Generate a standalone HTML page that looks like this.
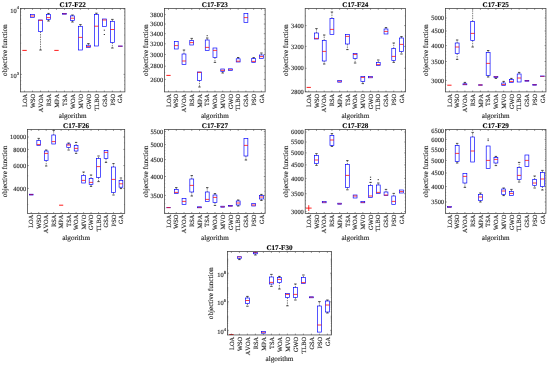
<!DOCTYPE html>
<html lang="en">
<head>
<meta charset="utf-8">
<title>C17 box plots</title>
<style>
html,body{margin:0;padding:0;background:#fff;}
body{width:550px;height:365px;overflow:hidden;font-family:"Liberation Serif",serif;}
svg{display:block;}
svg text{stroke:#303030;stroke-width:0.14px;}
</style>
</head>
<body>
<svg width="550" height="365" viewBox="0 0 550 365" font-family="'Liberation Serif', 'Times New Roman', serif" text-rendering="geometricPrecision" style="font-kerning:none" stroke-linecap="butt">
<g>
<line x1="22.35" y1="50.4" x2="26.75" y2="50.4" stroke="#ff0000" stroke-width="0.9"/>
<rect x="30.54" y="14.6" width="3.99" height="2.8" fill="none" stroke="#0000ff" stroke-width="0.67"/>
<line x1="30.54" y1="16" x2="34.53" y2="16" stroke="#ff0000" stroke-width="0.75"/>
<line x1="40.52" y1="31.6" x2="40.52" y2="50" stroke="#000" stroke-width="0.5" stroke-dasharray="1.5 0.9"/>
<line x1="39.28" y1="50" x2="41.75" y2="50" stroke="#000" stroke-width="0.7"/>
<rect x="38.52" y="20" width="3.99" height="11.6" fill="none" stroke="#0000ff" stroke-width="0.67"/>
<line x1="38.52" y1="20.3" x2="42.51" y2="20.3" stroke="#ff0000" stroke-width="0.75"/>
<line x1="48.5" y1="14.4" x2="48.5" y2="13.4" stroke="#000" stroke-width="0.5" stroke-dasharray="1.5 0.9"/>
<line x1="47.26" y1="13.4" x2="49.74" y2="13.4" stroke="#000" stroke-width="0.7"/>
<line x1="48.5" y1="19.6" x2="48.5" y2="21" stroke="#000" stroke-width="0.5" stroke-dasharray="1.5 0.9"/>
<line x1="47.26" y1="21" x2="49.74" y2="21" stroke="#000" stroke-width="0.7"/>
<rect x="46.5" y="14.4" width="3.99" height="5.2" fill="none" stroke="#0000ff" stroke-width="0.67"/>
<line x1="46.5" y1="17.6" x2="50.5" y2="17.6" stroke="#ff0000" stroke-width="0.75"/>
<line x1="54.29" y1="50.4" x2="58.68" y2="50.4" stroke="#ff0000" stroke-width="0.9"/>
<rect x="62.47" y="13.4" width="3.99" height="0.8" fill="none" stroke="#0000ff" stroke-width="0.67"/>
<line x1="62.47" y1="13.8" x2="66.46" y2="13.8" stroke="#ff0000" stroke-width="0.55"/>
<line x1="72.45" y1="15.9" x2="72.45" y2="15" stroke="#000" stroke-width="0.5" stroke-dasharray="1.5 0.9"/>
<line x1="71.21" y1="15" x2="73.69" y2="15" stroke="#000" stroke-width="0.7"/>
<line x1="72.45" y1="20.6" x2="72.45" y2="22" stroke="#000" stroke-width="0.5" stroke-dasharray="1.5 0.9"/>
<line x1="71.21" y1="22" x2="73.69" y2="22" stroke="#000" stroke-width="0.7"/>
<rect x="70.45" y="15.9" width="3.99" height="4.7" fill="none" stroke="#0000ff" stroke-width="0.67"/>
<line x1="70.45" y1="18.2" x2="74.45" y2="18.2" stroke="#ff0000" stroke-width="0.75"/>
<line x1="80.43" y1="26.3" x2="80.43" y2="24.6" stroke="#000" stroke-width="0.5" stroke-dasharray="1.5 0.9"/>
<line x1="79.2" y1="24.6" x2="81.67" y2="24.6" stroke="#000" stroke-width="0.7"/>
<rect x="78.44" y="26.3" width="3.99" height="23.7" fill="none" stroke="#0000ff" stroke-width="0.67"/>
<line x1="78.44" y1="37.4" x2="82.43" y2="37.4" stroke="#ff0000" stroke-width="0.75"/>
<line x1="88.42" y1="45.2" x2="88.42" y2="43.6" stroke="#000" stroke-width="0.5" stroke-dasharray="1.5 0.9"/>
<line x1="87.18" y1="43.6" x2="89.65" y2="43.6" stroke="#000" stroke-width="0.7"/>
<rect x="86.42" y="45.2" width="3.99" height="2.2" fill="none" stroke="#0000ff" stroke-width="0.67"/>
<line x1="86.42" y1="46.6" x2="90.41" y2="46.6" stroke="#ff0000" stroke-width="0.75"/>
<line x1="96.4" y1="14.4" x2="96.4" y2="13.2" stroke="#000" stroke-width="0.5" stroke-dasharray="1.5 0.9"/>
<line x1="95.16" y1="13.2" x2="97.64" y2="13.2" stroke="#000" stroke-width="0.7"/>
<rect x="94.4" y="14.4" width="3.99" height="31.6" fill="none" stroke="#0000ff" stroke-width="0.67"/>
<line x1="94.4" y1="26.2" x2="98.4" y2="26.2" stroke="#ff0000" stroke-width="0.75"/>
<rect x="102.39" y="19" width="3.99" height="7.4" fill="none" stroke="#0000ff" stroke-width="0.67"/>
<line x1="102.39" y1="20" x2="106.38" y2="20" stroke="#ff0000" stroke-width="0.75"/>
<line x1="103.78" y1="30.2" x2="104.98" y2="30.2" stroke="#000" stroke-width="0.8"/>
<line x1="103.78" y1="34.5" x2="104.98" y2="34.5" stroke="#000" stroke-width="0.8"/>
<line x1="112.37" y1="21.3" x2="112.37" y2="19.4" stroke="#000" stroke-width="0.5" stroke-dasharray="1.5 0.9"/>
<line x1="111.13" y1="19.4" x2="113.6" y2="19.4" stroke="#000" stroke-width="0.7"/>
<line x1="112.37" y1="42.5" x2="112.37" y2="48" stroke="#000" stroke-width="0.5" stroke-dasharray="1.5 0.9"/>
<line x1="111.13" y1="48" x2="113.6" y2="48" stroke="#000" stroke-width="0.7"/>
<rect x="110.37" y="21.3" width="3.99" height="21.2" fill="none" stroke="#0000ff" stroke-width="0.67"/>
<line x1="110.37" y1="29.5" x2="114.36" y2="29.5" stroke="#ff0000" stroke-width="0.75"/>
<rect x="118.35" y="46" width="3.99" height="0.4" fill="none" stroke="#0000ff" stroke-width="0.67"/>
<line x1="118.35" y1="46.2" x2="122.35" y2="46.2" stroke="#ff0000" stroke-width="0.55"/>
<rect x="20.5" y="8.5" width="104.4" height="83.4" fill="none" stroke="#404040" stroke-width="0.76"/>
<line x1="24.55" y1="91.9" x2="24.55" y2="90.55" stroke="#404040" stroke-width="0.55"/>
<line x1="24.55" y1="8.5" x2="24.55" y2="9.85" stroke="#404040" stroke-width="0.55"/>
<text x="26.7" y="93.85" font-size="6.4" text-anchor="end" fill="#262626" transform="rotate(-90 26.7 93.85)">LOA</text>
<line x1="32.53" y1="91.9" x2="32.53" y2="90.55" stroke="#404040" stroke-width="0.55"/>
<line x1="32.53" y1="8.5" x2="32.53" y2="9.85" stroke="#404040" stroke-width="0.55"/>
<text x="34.68" y="93.85" font-size="6.4" text-anchor="end" fill="#262626" transform="rotate(-90 34.68 93.85)">WSO</text>
<line x1="40.52" y1="91.9" x2="40.52" y2="90.55" stroke="#404040" stroke-width="0.55"/>
<line x1="40.52" y1="8.5" x2="40.52" y2="9.85" stroke="#404040" stroke-width="0.55"/>
<text x="42.67" y="93.85" font-size="6.4" text-anchor="end" fill="#262626" transform="rotate(-90 42.67 93.85)">AVOA</text>
<line x1="48.5" y1="91.9" x2="48.5" y2="90.55" stroke="#404040" stroke-width="0.55"/>
<line x1="48.5" y1="8.5" x2="48.5" y2="9.85" stroke="#404040" stroke-width="0.55"/>
<text x="50.65" y="93.85" font-size="6.4" text-anchor="end" fill="#262626" transform="rotate(-90 50.65 93.85)">RSA</text>
<line x1="56.48" y1="91.9" x2="56.48" y2="90.55" stroke="#404040" stroke-width="0.55"/>
<line x1="56.48" y1="8.5" x2="56.48" y2="9.85" stroke="#404040" stroke-width="0.55"/>
<text x="58.63" y="93.85" font-size="6.4" text-anchor="end" fill="#262626" transform="rotate(-90 58.63 93.85)">MPA</text>
<line x1="64.47" y1="91.9" x2="64.47" y2="90.55" stroke="#404040" stroke-width="0.55"/>
<line x1="64.47" y1="8.5" x2="64.47" y2="9.85" stroke="#404040" stroke-width="0.55"/>
<text x="66.62" y="93.85" font-size="6.4" text-anchor="end" fill="#262626" transform="rotate(-90 66.62 93.85)">TSA</text>
<line x1="72.45" y1="91.9" x2="72.45" y2="90.55" stroke="#404040" stroke-width="0.55"/>
<line x1="72.45" y1="8.5" x2="72.45" y2="9.85" stroke="#404040" stroke-width="0.55"/>
<text x="74.6" y="93.85" font-size="6.4" text-anchor="end" fill="#262626" transform="rotate(-90 74.6 93.85)">WOA</text>
<line x1="80.43" y1="91.9" x2="80.43" y2="90.55" stroke="#404040" stroke-width="0.55"/>
<line x1="80.43" y1="8.5" x2="80.43" y2="9.85" stroke="#404040" stroke-width="0.55"/>
<text x="82.58" y="93.85" font-size="6.4" text-anchor="end" fill="#262626" transform="rotate(-90 82.58 93.85)">MVO</text>
<line x1="88.42" y1="91.9" x2="88.42" y2="90.55" stroke="#404040" stroke-width="0.55"/>
<line x1="88.42" y1="8.5" x2="88.42" y2="9.85" stroke="#404040" stroke-width="0.55"/>
<text x="90.57" y="93.85" font-size="6.4" text-anchor="end" fill="#262626" transform="rotate(-90 90.57 93.85)">GWO</text>
<line x1="96.4" y1="91.9" x2="96.4" y2="90.55" stroke="#404040" stroke-width="0.55"/>
<line x1="96.4" y1="8.5" x2="96.4" y2="9.85" stroke="#404040" stroke-width="0.55"/>
<text x="98.55" y="93.85" font-size="6.4" text-anchor="end" fill="#262626" transform="rotate(-90 98.55 93.85)">TLBO</text>
<line x1="104.38" y1="91.9" x2="104.38" y2="90.55" stroke="#404040" stroke-width="0.55"/>
<line x1="104.38" y1="8.5" x2="104.38" y2="9.85" stroke="#404040" stroke-width="0.55"/>
<text x="106.53" y="93.85" font-size="6.4" text-anchor="end" fill="#262626" transform="rotate(-90 106.53 93.85)">GSA</text>
<line x1="112.37" y1="91.9" x2="112.37" y2="90.55" stroke="#404040" stroke-width="0.55"/>
<line x1="112.37" y1="8.5" x2="112.37" y2="9.85" stroke="#404040" stroke-width="0.55"/>
<text x="114.52" y="93.85" font-size="6.4" text-anchor="end" fill="#262626" transform="rotate(-90 114.52 93.85)">PSO</text>
<line x1="120.35" y1="91.9" x2="120.35" y2="90.55" stroke="#404040" stroke-width="0.55"/>
<line x1="120.35" y1="8.5" x2="120.35" y2="9.85" stroke="#404040" stroke-width="0.55"/>
<text x="122.5" y="93.85" font-size="6.4" text-anchor="end" fill="#262626" transform="rotate(-90 122.5 93.85)">GA</text>
<line x1="20.5" y1="9" x2="21.85" y2="9" stroke="#404040" stroke-width="0.55"/>
<line x1="124.9" y1="9" x2="123.55" y2="9" stroke="#404040" stroke-width="0.55"/>
<text x="19" y="12.7" font-size="6.4" text-anchor="end" fill="#262626">10<tspan dy="-3.3" font-size="4.61">4</tspan></text>
<line x1="20.5" y1="74.4" x2="21.85" y2="74.4" stroke="#404040" stroke-width="0.55"/>
<line x1="124.9" y1="74.4" x2="123.55" y2="74.4" stroke="#404040" stroke-width="0.55"/>
<text x="19" y="78.1" font-size="6.4" text-anchor="end" fill="#262626">10<tspan dy="-3.3" font-size="4.61">3</tspan></text>
<line x1="20.5" y1="88.91" x2="21.24" y2="88.91" stroke="#404040" stroke-width="0.4"/>
<line x1="124.9" y1="88.91" x2="124.16" y2="88.91" stroke="#404040" stroke-width="0.4"/>
<line x1="20.5" y1="84.53" x2="21.24" y2="84.53" stroke="#404040" stroke-width="0.4"/>
<line x1="124.9" y1="84.53" x2="124.16" y2="84.53" stroke="#404040" stroke-width="0.4"/>
<line x1="20.5" y1="80.74" x2="21.24" y2="80.74" stroke="#404040" stroke-width="0.4"/>
<line x1="124.9" y1="80.74" x2="124.16" y2="80.74" stroke="#404040" stroke-width="0.4"/>
<line x1="20.5" y1="77.39" x2="21.24" y2="77.39" stroke="#404040" stroke-width="0.4"/>
<line x1="124.9" y1="77.39" x2="124.16" y2="77.39" stroke="#404040" stroke-width="0.4"/>
<line x1="20.5" y1="54.71" x2="21.24" y2="54.71" stroke="#404040" stroke-width="0.4"/>
<line x1="124.9" y1="54.71" x2="124.16" y2="54.71" stroke="#404040" stroke-width="0.4"/>
<line x1="20.5" y1="43.2" x2="21.24" y2="43.2" stroke="#404040" stroke-width="0.4"/>
<line x1="124.9" y1="43.2" x2="124.16" y2="43.2" stroke="#404040" stroke-width="0.4"/>
<line x1="20.5" y1="35.03" x2="21.24" y2="35.03" stroke="#404040" stroke-width="0.4"/>
<line x1="124.9" y1="35.03" x2="124.16" y2="35.03" stroke="#404040" stroke-width="0.4"/>
<line x1="20.5" y1="28.69" x2="21.24" y2="28.69" stroke="#404040" stroke-width="0.4"/>
<line x1="124.9" y1="28.69" x2="124.16" y2="28.69" stroke="#404040" stroke-width="0.4"/>
<line x1="20.5" y1="23.51" x2="21.24" y2="23.51" stroke="#404040" stroke-width="0.4"/>
<line x1="124.9" y1="23.51" x2="124.16" y2="23.51" stroke="#404040" stroke-width="0.4"/>
<line x1="20.5" y1="19.13" x2="21.24" y2="19.13" stroke="#404040" stroke-width="0.4"/>
<line x1="124.9" y1="19.13" x2="124.16" y2="19.13" stroke="#404040" stroke-width="0.4"/>
<line x1="20.5" y1="15.34" x2="21.24" y2="15.34" stroke="#404040" stroke-width="0.4"/>
<line x1="124.9" y1="15.34" x2="124.16" y2="15.34" stroke="#404040" stroke-width="0.4"/>
<line x1="20.5" y1="11.99" x2="21.24" y2="11.99" stroke="#404040" stroke-width="0.4"/>
<line x1="124.9" y1="11.99" x2="124.16" y2="11.99" stroke="#404040" stroke-width="0.4"/>
<text x="72.7" y="7" font-size="7.15" text-anchor="middle" fill="#000" font-weight="bold">C17-F22</text>
<text x="72.7" y="118.45" font-size="7.15" text-anchor="middle" fill="#262626">algorithm</text>
<text x="6.6" y="50.2" font-size="7.15" text-anchor="middle" fill="#262626" transform="rotate(-90 6.6 50.2)">objective function</text>
</g>
<g>
<line x1="166.36" y1="75.4" x2="170.64" y2="75.4" stroke="#ff0000" stroke-width="0.9"/>
<rect x="174.31" y="41.4" width="3.87" height="7.6" fill="none" stroke="#0000ff" stroke-width="0.67"/>
<line x1="174.31" y1="45.6" x2="178.18" y2="45.6" stroke="#ff0000" stroke-width="0.75"/>
<line x1="183.98" y1="54" x2="183.98" y2="50" stroke="#000" stroke-width="0.5" stroke-dasharray="1.5 0.9"/>
<line x1="182.78" y1="50" x2="185.18" y2="50" stroke="#000" stroke-width="0.7"/>
<rect x="182.05" y="54" width="3.87" height="10.4" fill="none" stroke="#0000ff" stroke-width="0.67"/>
<line x1="182.05" y1="61" x2="185.92" y2="61" stroke="#ff0000" stroke-width="0.75"/>
<line x1="191.72" y1="40.4" x2="191.72" y2="38.4" stroke="#000" stroke-width="0.5" stroke-dasharray="1.5 0.9"/>
<line x1="190.53" y1="38.4" x2="192.92" y2="38.4" stroke="#000" stroke-width="0.7"/>
<rect x="189.79" y="40.4" width="3.87" height="4.6" fill="none" stroke="#0000ff" stroke-width="0.67"/>
<line x1="189.79" y1="42.6" x2="193.66" y2="42.6" stroke="#ff0000" stroke-width="0.75"/>
<line x1="199.47" y1="80.4" x2="199.47" y2="87" stroke="#000" stroke-width="0.5" stroke-dasharray="1.5 0.9"/>
<line x1="198.27" y1="87" x2="200.67" y2="87" stroke="#000" stroke-width="0.7"/>
<rect x="197.53" y="72" width="3.87" height="8.4" fill="none" stroke="#0000ff" stroke-width="0.67"/>
<line x1="197.53" y1="72.4" x2="201.4" y2="72.4" stroke="#ff0000" stroke-width="0.75"/>
<line x1="207.21" y1="40" x2="207.21" y2="38" stroke="#000" stroke-width="0.5" stroke-dasharray="1.5 0.9"/>
<line x1="206.01" y1="38" x2="208.41" y2="38" stroke="#000" stroke-width="0.7"/>
<rect x="205.27" y="40" width="3.87" height="10.4" fill="none" stroke="#0000ff" stroke-width="0.67"/>
<line x1="205.27" y1="47.4" x2="209.14" y2="47.4" stroke="#ff0000" stroke-width="0.75"/>
<line x1="206.61" y1="35.7" x2="207.81" y2="35.7" stroke="#000" stroke-width="0.8"/>
<line x1="214.95" y1="57.6" x2="214.95" y2="62.4" stroke="#000" stroke-width="0.5" stroke-dasharray="1.5 0.9"/>
<line x1="213.75" y1="62.4" x2="216.15" y2="62.4" stroke="#000" stroke-width="0.7"/>
<rect x="213.01" y="48" width="3.87" height="9.6" fill="none" stroke="#0000ff" stroke-width="0.67"/>
<line x1="213.01" y1="50.4" x2="216.89" y2="50.4" stroke="#ff0000" stroke-width="0.75"/>
<line x1="222.69" y1="71.6" x2="222.69" y2="73" stroke="#000" stroke-width="0.5" stroke-dasharray="1.5 0.9"/>
<line x1="221.49" y1="73" x2="223.89" y2="73" stroke="#000" stroke-width="0.7"/>
<rect x="220.76" y="69" width="3.87" height="2.6" fill="none" stroke="#0000ff" stroke-width="0.67"/>
<line x1="220.76" y1="70.3" x2="224.63" y2="70.3" stroke="#ff0000" stroke-width="0.75"/>
<rect x="228.5" y="68.8" width="3.87" height="1.6" fill="none" stroke="#0000ff" stroke-width="0.67"/>
<line x1="228.5" y1="69.6" x2="232.37" y2="69.6" stroke="#ff0000" stroke-width="0.55"/>
<line x1="238.17" y1="58.8" x2="238.17" y2="57.5" stroke="#000" stroke-width="0.5" stroke-dasharray="1.5 0.9"/>
<line x1="236.98" y1="57.5" x2="239.37" y2="57.5" stroke="#000" stroke-width="0.7"/>
<rect x="236.24" y="58.8" width="3.87" height="3.2" fill="none" stroke="#0000ff" stroke-width="0.67"/>
<line x1="236.24" y1="61.2" x2="240.11" y2="61.2" stroke="#ff0000" stroke-width="0.75"/>
<rect x="243.98" y="13.6" width="3.87" height="9" fill="none" stroke="#0000ff" stroke-width="0.67"/>
<line x1="243.98" y1="17.6" x2="247.85" y2="17.6" stroke="#ff0000" stroke-width="0.75"/>
<line x1="253.66" y1="58.6" x2="253.66" y2="57.6" stroke="#000" stroke-width="0.5" stroke-dasharray="1.5 0.9"/>
<line x1="252.46" y1="57.6" x2="254.86" y2="57.6" stroke="#000" stroke-width="0.7"/>
<rect x="251.72" y="58.6" width="3.87" height="4" fill="none" stroke="#0000ff" stroke-width="0.67"/>
<line x1="251.72" y1="61.4" x2="255.59" y2="61.4" stroke="#ff0000" stroke-width="0.75"/>
<line x1="261.4" y1="55" x2="261.4" y2="53" stroke="#000" stroke-width="0.5" stroke-dasharray="1.5 0.9"/>
<line x1="260.2" y1="53" x2="262.6" y2="53" stroke="#000" stroke-width="0.7"/>
<rect x="259.46" y="55" width="3.87" height="3.4" fill="none" stroke="#0000ff" stroke-width="0.67"/>
<line x1="259.46" y1="56.6" x2="263.34" y2="56.6" stroke="#ff0000" stroke-width="0.75"/>
<rect x="164.5" y="8.5" width="100.65" height="83.4" fill="none" stroke="#404040" stroke-width="0.76"/>
<line x1="168.5" y1="91.9" x2="168.5" y2="90.55" stroke="#404040" stroke-width="0.55"/>
<line x1="168.5" y1="8.5" x2="168.5" y2="9.85" stroke="#404040" stroke-width="0.55"/>
<text x="170.65" y="93.85" font-size="6.4" text-anchor="end" fill="#262626" transform="rotate(-90 170.65 93.85)">LOA</text>
<line x1="176.24" y1="91.9" x2="176.24" y2="90.55" stroke="#404040" stroke-width="0.55"/>
<line x1="176.24" y1="8.5" x2="176.24" y2="9.85" stroke="#404040" stroke-width="0.55"/>
<text x="178.39" y="93.85" font-size="6.4" text-anchor="end" fill="#262626" transform="rotate(-90 178.39 93.85)">WSO</text>
<line x1="183.98" y1="91.9" x2="183.98" y2="90.55" stroke="#404040" stroke-width="0.55"/>
<line x1="183.98" y1="8.5" x2="183.98" y2="9.85" stroke="#404040" stroke-width="0.55"/>
<text x="186.13" y="93.85" font-size="6.4" text-anchor="end" fill="#262626" transform="rotate(-90 186.13 93.85)">AVOA</text>
<line x1="191.72" y1="91.9" x2="191.72" y2="90.55" stroke="#404040" stroke-width="0.55"/>
<line x1="191.72" y1="8.5" x2="191.72" y2="9.85" stroke="#404040" stroke-width="0.55"/>
<text x="193.88" y="93.85" font-size="6.4" text-anchor="end" fill="#262626" transform="rotate(-90 193.88 93.85)">RSA</text>
<line x1="199.47" y1="91.9" x2="199.47" y2="90.55" stroke="#404040" stroke-width="0.55"/>
<line x1="199.47" y1="8.5" x2="199.47" y2="9.85" stroke="#404040" stroke-width="0.55"/>
<text x="201.62" y="93.85" font-size="6.4" text-anchor="end" fill="#262626" transform="rotate(-90 201.62 93.85)">MPA</text>
<line x1="207.21" y1="91.9" x2="207.21" y2="90.55" stroke="#404040" stroke-width="0.55"/>
<line x1="207.21" y1="8.5" x2="207.21" y2="9.85" stroke="#404040" stroke-width="0.55"/>
<text x="209.36" y="93.85" font-size="6.4" text-anchor="end" fill="#262626" transform="rotate(-90 209.36 93.85)">TSA</text>
<line x1="214.95" y1="91.9" x2="214.95" y2="90.55" stroke="#404040" stroke-width="0.55"/>
<line x1="214.95" y1="8.5" x2="214.95" y2="9.85" stroke="#404040" stroke-width="0.55"/>
<text x="217.1" y="93.85" font-size="6.4" text-anchor="end" fill="#262626" transform="rotate(-90 217.1 93.85)">WOA</text>
<line x1="222.69" y1="91.9" x2="222.69" y2="90.55" stroke="#404040" stroke-width="0.55"/>
<line x1="222.69" y1="8.5" x2="222.69" y2="9.85" stroke="#404040" stroke-width="0.55"/>
<text x="224.84" y="93.85" font-size="6.4" text-anchor="end" fill="#262626" transform="rotate(-90 224.84 93.85)">MVO</text>
<line x1="230.43" y1="91.9" x2="230.43" y2="90.55" stroke="#404040" stroke-width="0.55"/>
<line x1="230.43" y1="8.5" x2="230.43" y2="9.85" stroke="#404040" stroke-width="0.55"/>
<text x="232.58" y="93.85" font-size="6.4" text-anchor="end" fill="#262626" transform="rotate(-90 232.58 93.85)">GWO</text>
<line x1="238.17" y1="91.9" x2="238.17" y2="90.55" stroke="#404040" stroke-width="0.55"/>
<line x1="238.17" y1="8.5" x2="238.17" y2="9.85" stroke="#404040" stroke-width="0.55"/>
<text x="240.32" y="93.85" font-size="6.4" text-anchor="end" fill="#262626" transform="rotate(-90 240.32 93.85)">TLBO</text>
<line x1="245.92" y1="91.9" x2="245.92" y2="90.55" stroke="#404040" stroke-width="0.55"/>
<line x1="245.92" y1="8.5" x2="245.92" y2="9.85" stroke="#404040" stroke-width="0.55"/>
<text x="248.07" y="93.85" font-size="6.4" text-anchor="end" fill="#262626" transform="rotate(-90 248.07 93.85)">GSA</text>
<line x1="253.66" y1="91.9" x2="253.66" y2="90.55" stroke="#404040" stroke-width="0.55"/>
<line x1="253.66" y1="8.5" x2="253.66" y2="9.85" stroke="#404040" stroke-width="0.55"/>
<text x="255.81" y="93.85" font-size="6.4" text-anchor="end" fill="#262626" transform="rotate(-90 255.81 93.85)">PSO</text>
<line x1="261.4" y1="91.9" x2="261.4" y2="90.55" stroke="#404040" stroke-width="0.55"/>
<line x1="261.4" y1="8.5" x2="261.4" y2="9.85" stroke="#404040" stroke-width="0.55"/>
<text x="263.55" y="93.85" font-size="6.4" text-anchor="end" fill="#262626" transform="rotate(-90 263.55 93.85)">GA</text>
<line x1="164.5" y1="14.6" x2="165.85" y2="14.6" stroke="#404040" stroke-width="0.55"/>
<line x1="265.15" y1="14.6" x2="263.8" y2="14.6" stroke="#404040" stroke-width="0.55"/>
<text x="163.1" y="16.75" font-size="6.4" text-anchor="end" fill="#262626">3800</text>
<line x1="164.5" y1="24" x2="165.85" y2="24" stroke="#404040" stroke-width="0.55"/>
<line x1="265.15" y1="24" x2="263.8" y2="24" stroke="#404040" stroke-width="0.55"/>
<text x="163.1" y="26.15" font-size="6.4" text-anchor="end" fill="#262626">3600</text>
<line x1="164.5" y1="33.7" x2="165.85" y2="33.7" stroke="#404040" stroke-width="0.55"/>
<line x1="265.15" y1="33.7" x2="263.8" y2="33.7" stroke="#404040" stroke-width="0.55"/>
<text x="163.1" y="35.85" font-size="6.4" text-anchor="end" fill="#262626">3400</text>
<line x1="164.5" y1="43.8" x2="165.85" y2="43.8" stroke="#404040" stroke-width="0.55"/>
<line x1="265.15" y1="43.8" x2="263.8" y2="43.8" stroke="#404040" stroke-width="0.55"/>
<text x="163.1" y="45.95" font-size="6.4" text-anchor="end" fill="#262626">3200</text>
<line x1="164.5" y1="54.5" x2="165.85" y2="54.5" stroke="#404040" stroke-width="0.55"/>
<line x1="265.15" y1="54.5" x2="263.8" y2="54.5" stroke="#404040" stroke-width="0.55"/>
<text x="163.1" y="56.65" font-size="6.4" text-anchor="end" fill="#262626">3000</text>
<line x1="164.5" y1="66.2" x2="165.85" y2="66.2" stroke="#404040" stroke-width="0.55"/>
<line x1="265.15" y1="66.2" x2="263.8" y2="66.2" stroke="#404040" stroke-width="0.55"/>
<text x="163.1" y="68.35" font-size="6.4" text-anchor="end" fill="#262626">2800</text>
<line x1="164.5" y1="79.4" x2="165.85" y2="79.4" stroke="#404040" stroke-width="0.55"/>
<line x1="265.15" y1="79.4" x2="263.8" y2="79.4" stroke="#404040" stroke-width="0.55"/>
<text x="163.1" y="81.55" font-size="6.4" text-anchor="end" fill="#262626">2600</text>
<line x1="164.5" y1="85.71" x2="165.24" y2="85.71" stroke="#404040" stroke-width="0.4"/>
<line x1="265.15" y1="85.71" x2="264.41" y2="85.71" stroke="#404040" stroke-width="0.4"/>
<line x1="164.5" y1="72.65" x2="165.24" y2="72.65" stroke="#404040" stroke-width="0.4"/>
<line x1="265.15" y1="72.65" x2="264.41" y2="72.65" stroke="#404040" stroke-width="0.4"/>
<line x1="164.5" y1="60.53" x2="165.24" y2="60.53" stroke="#404040" stroke-width="0.4"/>
<line x1="265.15" y1="60.53" x2="264.41" y2="60.53" stroke="#404040" stroke-width="0.4"/>
<line x1="164.5" y1="49.21" x2="165.24" y2="49.21" stroke="#404040" stroke-width="0.4"/>
<line x1="265.15" y1="49.21" x2="264.41" y2="49.21" stroke="#404040" stroke-width="0.4"/>
<line x1="164.5" y1="38.61" x2="165.24" y2="38.61" stroke="#404040" stroke-width="0.4"/>
<line x1="265.15" y1="38.61" x2="264.41" y2="38.61" stroke="#404040" stroke-width="0.4"/>
<line x1="164.5" y1="28.62" x2="165.24" y2="28.62" stroke="#404040" stroke-width="0.4"/>
<line x1="265.15" y1="28.62" x2="264.41" y2="28.62" stroke="#404040" stroke-width="0.4"/>
<line x1="164.5" y1="19.2" x2="165.24" y2="19.2" stroke="#404040" stroke-width="0.4"/>
<line x1="265.15" y1="19.2" x2="264.41" y2="19.2" stroke="#404040" stroke-width="0.4"/>
<line x1="164.5" y1="10.26" x2="165.24" y2="10.26" stroke="#404040" stroke-width="0.4"/>
<line x1="265.15" y1="10.26" x2="264.41" y2="10.26" stroke="#404040" stroke-width="0.4"/>
<text x="214.82" y="7" font-size="7.15" text-anchor="middle" fill="#000" font-weight="bold">C17-F23</text>
<text x="214.82" y="118.45" font-size="7.15" text-anchor="middle" fill="#262626">algorithm</text>
<text x="147.6" y="50.2" font-size="7.15" text-anchor="middle" fill="#262626" transform="rotate(-90 147.6 50.2)">objective function</text>
</g>
<g>
<line x1="306.62" y1="87.4" x2="310.88" y2="87.4" stroke="#ff0000" stroke-width="0.9"/>
<line x1="316.48" y1="33" x2="316.48" y2="28.6" stroke="#000" stroke-width="0.5" stroke-dasharray="1.5 0.9"/>
<line x1="315.28" y1="28.6" x2="317.67" y2="28.6" stroke="#000" stroke-width="0.7"/>
<rect x="314.54" y="33" width="3.86" height="6" fill="none" stroke="#0000ff" stroke-width="0.67"/>
<line x1="314.54" y1="38.4" x2="318.41" y2="38.4" stroke="#ff0000" stroke-width="0.75"/>
<line x1="324.2" y1="40.4" x2="324.2" y2="35" stroke="#000" stroke-width="0.5" stroke-dasharray="1.5 0.9"/>
<line x1="323" y1="35" x2="325.4" y2="35" stroke="#000" stroke-width="0.7"/>
<line x1="324.2" y1="61" x2="324.2" y2="64" stroke="#000" stroke-width="0.5" stroke-dasharray="1.5 0.9"/>
<line x1="323" y1="64" x2="325.4" y2="64" stroke="#000" stroke-width="0.7"/>
<rect x="322.27" y="40.4" width="3.86" height="20.6" fill="none" stroke="#0000ff" stroke-width="0.67"/>
<line x1="322.27" y1="51.4" x2="326.13" y2="51.4" stroke="#ff0000" stroke-width="0.75"/>
<line x1="331.93" y1="18.4" x2="331.93" y2="12" stroke="#000" stroke-width="0.5" stroke-dasharray="1.5 0.9"/>
<line x1="330.73" y1="12" x2="333.12" y2="12" stroke="#000" stroke-width="0.7"/>
<rect x="329.99" y="18.4" width="3.86" height="16" fill="none" stroke="#0000ff" stroke-width="0.67"/>
<line x1="329.99" y1="29.4" x2="333.86" y2="29.4" stroke="#ff0000" stroke-width="0.75"/>
<rect x="337.72" y="80.6" width="3.86" height="1.6" fill="none" stroke="#0000ff" stroke-width="0.67"/>
<line x1="337.72" y1="81.4" x2="341.58" y2="81.4" stroke="#ff0000" stroke-width="0.55"/>
<line x1="347.38" y1="44" x2="347.38" y2="49.6" stroke="#000" stroke-width="0.5" stroke-dasharray="1.5 0.9"/>
<line x1="346.18" y1="49.6" x2="348.57" y2="49.6" stroke="#000" stroke-width="0.7"/>
<rect x="345.44" y="34.4" width="3.86" height="9.6" fill="none" stroke="#0000ff" stroke-width="0.67"/>
<line x1="345.44" y1="36.4" x2="349.31" y2="36.4" stroke="#ff0000" stroke-width="0.75"/>
<line x1="355.1" y1="58.4" x2="355.1" y2="63" stroke="#000" stroke-width="0.5" stroke-dasharray="1.5 0.9"/>
<line x1="353.9" y1="63" x2="356.3" y2="63" stroke="#000" stroke-width="0.7"/>
<rect x="353.17" y="53.6" width="3.86" height="4.8" fill="none" stroke="#0000ff" stroke-width="0.67"/>
<line x1="353.17" y1="54.4" x2="357.03" y2="54.4" stroke="#ff0000" stroke-width="0.75"/>
<line x1="362.82" y1="81.4" x2="362.82" y2="83.6" stroke="#000" stroke-width="0.5" stroke-dasharray="1.5 0.9"/>
<line x1="361.63" y1="83.6" x2="364.02" y2="83.6" stroke="#000" stroke-width="0.7"/>
<rect x="360.89" y="76.6" width="3.86" height="4.8" fill="none" stroke="#0000ff" stroke-width="0.67"/>
<line x1="360.89" y1="77.4" x2="364.76" y2="77.4" stroke="#ff0000" stroke-width="0.75"/>
<rect x="368.62" y="76.6" width="3.86" height="1.2" fill="none" stroke="#0000ff" stroke-width="0.67"/>
<line x1="368.62" y1="77.2" x2="372.48" y2="77.2" stroke="#ff0000" stroke-width="0.55"/>
<line x1="378.27" y1="62.4" x2="378.27" y2="60" stroke="#000" stroke-width="0.5" stroke-dasharray="1.5 0.9"/>
<line x1="377.08" y1="60" x2="379.47" y2="60" stroke="#000" stroke-width="0.7"/>
<rect x="376.34" y="62.4" width="3.86" height="3.1" fill="none" stroke="#0000ff" stroke-width="0.67"/>
<line x1="376.34" y1="64.6" x2="380.21" y2="64.6" stroke="#ff0000" stroke-width="0.75"/>
<line x1="386" y1="29" x2="386" y2="27.6" stroke="#000" stroke-width="0.5" stroke-dasharray="1.5 0.9"/>
<line x1="384.8" y1="27.6" x2="387.2" y2="27.6" stroke="#000" stroke-width="0.7"/>
<rect x="384.07" y="29" width="3.86" height="5" fill="none" stroke="#0000ff" stroke-width="0.67"/>
<line x1="384.07" y1="31.4" x2="387.93" y2="31.4" stroke="#ff0000" stroke-width="0.75"/>
<line x1="393.72" y1="48.6" x2="393.72" y2="43" stroke="#000" stroke-width="0.5" stroke-dasharray="1.5 0.9"/>
<line x1="392.53" y1="43" x2="394.92" y2="43" stroke="#000" stroke-width="0.7"/>
<line x1="393.72" y1="60.6" x2="393.72" y2="62.4" stroke="#000" stroke-width="0.5" stroke-dasharray="1.5 0.9"/>
<line x1="392.53" y1="62.4" x2="394.92" y2="62.4" stroke="#000" stroke-width="0.7"/>
<rect x="391.79" y="48.6" width="3.86" height="12" fill="none" stroke="#0000ff" stroke-width="0.67"/>
<line x1="391.79" y1="56.4" x2="395.66" y2="56.4" stroke="#ff0000" stroke-width="0.75"/>
<line x1="401.45" y1="38" x2="401.45" y2="36.6" stroke="#000" stroke-width="0.5" stroke-dasharray="1.5 0.9"/>
<line x1="400.25" y1="36.6" x2="402.65" y2="36.6" stroke="#000" stroke-width="0.7"/>
<line x1="401.45" y1="51.6" x2="401.45" y2="54" stroke="#000" stroke-width="0.5" stroke-dasharray="1.5 0.9"/>
<line x1="400.25" y1="54" x2="402.65" y2="54" stroke="#000" stroke-width="0.7"/>
<rect x="399.52" y="38" width="3.86" height="13.6" fill="none" stroke="#0000ff" stroke-width="0.67"/>
<line x1="399.52" y1="44.4" x2="403.38" y2="44.4" stroke="#ff0000" stroke-width="0.75"/>
<rect x="305.2" y="8.5" width="100.3" height="83.4" fill="none" stroke="#404040" stroke-width="0.76"/>
<line x1="308.75" y1="91.9" x2="308.75" y2="90.55" stroke="#404040" stroke-width="0.55"/>
<line x1="308.75" y1="8.5" x2="308.75" y2="9.85" stroke="#404040" stroke-width="0.55"/>
<text x="310.9" y="93.85" font-size="6.4" text-anchor="end" fill="#262626" transform="rotate(-90 310.9 93.85)">LOA</text>
<line x1="316.48" y1="91.9" x2="316.48" y2="90.55" stroke="#404040" stroke-width="0.55"/>
<line x1="316.48" y1="8.5" x2="316.48" y2="9.85" stroke="#404040" stroke-width="0.55"/>
<text x="318.62" y="93.85" font-size="6.4" text-anchor="end" fill="#262626" transform="rotate(-90 318.62 93.85)">WSO</text>
<line x1="324.2" y1="91.9" x2="324.2" y2="90.55" stroke="#404040" stroke-width="0.55"/>
<line x1="324.2" y1="8.5" x2="324.2" y2="9.85" stroke="#404040" stroke-width="0.55"/>
<text x="326.35" y="93.85" font-size="6.4" text-anchor="end" fill="#262626" transform="rotate(-90 326.35 93.85)">AVOA</text>
<line x1="331.93" y1="91.9" x2="331.93" y2="90.55" stroke="#404040" stroke-width="0.55"/>
<line x1="331.93" y1="8.5" x2="331.93" y2="9.85" stroke="#404040" stroke-width="0.55"/>
<text x="334.07" y="93.85" font-size="6.4" text-anchor="end" fill="#262626" transform="rotate(-90 334.07 93.85)">RSA</text>
<line x1="339.65" y1="91.9" x2="339.65" y2="90.55" stroke="#404040" stroke-width="0.55"/>
<line x1="339.65" y1="8.5" x2="339.65" y2="9.85" stroke="#404040" stroke-width="0.55"/>
<text x="341.8" y="93.85" font-size="6.4" text-anchor="end" fill="#262626" transform="rotate(-90 341.8 93.85)">MPA</text>
<line x1="347.38" y1="91.9" x2="347.38" y2="90.55" stroke="#404040" stroke-width="0.55"/>
<line x1="347.38" y1="8.5" x2="347.38" y2="9.85" stroke="#404040" stroke-width="0.55"/>
<text x="349.52" y="93.85" font-size="6.4" text-anchor="end" fill="#262626" transform="rotate(-90 349.52 93.85)">TSA</text>
<line x1="355.1" y1="91.9" x2="355.1" y2="90.55" stroke="#404040" stroke-width="0.55"/>
<line x1="355.1" y1="8.5" x2="355.1" y2="9.85" stroke="#404040" stroke-width="0.55"/>
<text x="357.25" y="93.85" font-size="6.4" text-anchor="end" fill="#262626" transform="rotate(-90 357.25 93.85)">WOA</text>
<line x1="362.82" y1="91.9" x2="362.82" y2="90.55" stroke="#404040" stroke-width="0.55"/>
<line x1="362.82" y1="8.5" x2="362.82" y2="9.85" stroke="#404040" stroke-width="0.55"/>
<text x="364.97" y="93.85" font-size="6.4" text-anchor="end" fill="#262626" transform="rotate(-90 364.97 93.85)">MVO</text>
<line x1="370.55" y1="91.9" x2="370.55" y2="90.55" stroke="#404040" stroke-width="0.55"/>
<line x1="370.55" y1="8.5" x2="370.55" y2="9.85" stroke="#404040" stroke-width="0.55"/>
<text x="372.7" y="93.85" font-size="6.4" text-anchor="end" fill="#262626" transform="rotate(-90 372.7 93.85)">GWO</text>
<line x1="378.27" y1="91.9" x2="378.27" y2="90.55" stroke="#404040" stroke-width="0.55"/>
<line x1="378.27" y1="8.5" x2="378.27" y2="9.85" stroke="#404040" stroke-width="0.55"/>
<text x="380.42" y="93.85" font-size="6.4" text-anchor="end" fill="#262626" transform="rotate(-90 380.42 93.85)">TLBO</text>
<line x1="386" y1="91.9" x2="386" y2="90.55" stroke="#404040" stroke-width="0.55"/>
<line x1="386" y1="8.5" x2="386" y2="9.85" stroke="#404040" stroke-width="0.55"/>
<text x="388.15" y="93.85" font-size="6.4" text-anchor="end" fill="#262626" transform="rotate(-90 388.15 93.85)">GSA</text>
<line x1="393.72" y1="91.9" x2="393.72" y2="90.55" stroke="#404040" stroke-width="0.55"/>
<line x1="393.72" y1="8.5" x2="393.72" y2="9.85" stroke="#404040" stroke-width="0.55"/>
<text x="395.87" y="93.85" font-size="6.4" text-anchor="end" fill="#262626" transform="rotate(-90 395.87 93.85)">PSO</text>
<line x1="401.45" y1="91.9" x2="401.45" y2="90.55" stroke="#404040" stroke-width="0.55"/>
<line x1="401.45" y1="8.5" x2="401.45" y2="9.85" stroke="#404040" stroke-width="0.55"/>
<text x="403.6" y="93.85" font-size="6.4" text-anchor="end" fill="#262626" transform="rotate(-90 403.6 93.85)">GA</text>
<line x1="305.2" y1="25.6" x2="306.55" y2="25.6" stroke="#404040" stroke-width="0.55"/>
<line x1="405.5" y1="25.6" x2="404.15" y2="25.6" stroke="#404040" stroke-width="0.55"/>
<text x="303.8" y="27.75" font-size="6.4" text-anchor="end" fill="#262626">3400</text>
<line x1="305.2" y1="46.4" x2="306.55" y2="46.4" stroke="#404040" stroke-width="0.55"/>
<line x1="405.5" y1="46.4" x2="404.15" y2="46.4" stroke="#404040" stroke-width="0.55"/>
<text x="303.8" y="48.55" font-size="6.4" text-anchor="end" fill="#262626">3200</text>
<line x1="305.2" y1="68.3" x2="306.55" y2="68.3" stroke="#404040" stroke-width="0.55"/>
<line x1="405.5" y1="68.3" x2="404.15" y2="68.3" stroke="#404040" stroke-width="0.55"/>
<text x="303.8" y="70.45" font-size="6.4" text-anchor="end" fill="#262626">3000</text>
<line x1="305.2" y1="91.4" x2="306.55" y2="91.4" stroke="#404040" stroke-width="0.55"/>
<line x1="405.5" y1="91.4" x2="404.15" y2="91.4" stroke="#404040" stroke-width="0.55"/>
<text x="303.8" y="93.55" font-size="6.4" text-anchor="end" fill="#262626">2800</text>
<line x1="305.2" y1="79.64" x2="305.94" y2="79.64" stroke="#404040" stroke-width="0.4"/>
<line x1="405.5" y1="79.64" x2="404.76" y2="79.64" stroke="#404040" stroke-width="0.4"/>
<line x1="305.2" y1="57.04" x2="305.94" y2="57.04" stroke="#404040" stroke-width="0.4"/>
<line x1="405.5" y1="57.04" x2="404.76" y2="57.04" stroke="#404040" stroke-width="0.4"/>
<line x1="305.2" y1="35.85" x2="305.94" y2="35.85" stroke="#404040" stroke-width="0.4"/>
<line x1="405.5" y1="35.85" x2="404.76" y2="35.85" stroke="#404040" stroke-width="0.4"/>
<line x1="305.2" y1="15.91" x2="305.94" y2="15.91" stroke="#404040" stroke-width="0.4"/>
<line x1="405.5" y1="15.91" x2="404.76" y2="15.91" stroke="#404040" stroke-width="0.4"/>
<text x="355.35" y="7" font-size="7.15" text-anchor="middle" fill="#000" font-weight="bold">C17-F24</text>
<text x="355.35" y="118.45" font-size="7.15" text-anchor="middle" fill="#262626">algorithm</text>
<text x="287.6" y="50.2" font-size="7.15" text-anchor="middle" fill="#262626" transform="rotate(-90 287.6 50.2)">objective function</text>
</g>
<g>
<line x1="447.26" y1="85.2" x2="451.54" y2="85.2" stroke="#ff0000" stroke-width="0.9"/>
<line x1="457.15" y1="43" x2="457.15" y2="40" stroke="#000" stroke-width="0.5" stroke-dasharray="1.5 0.9"/>
<line x1="455.95" y1="40" x2="458.35" y2="40" stroke="#000" stroke-width="0.7"/>
<line x1="457.15" y1="53.6" x2="457.15" y2="59.4" stroke="#000" stroke-width="0.5" stroke-dasharray="1.5 0.9"/>
<line x1="455.95" y1="59.4" x2="458.35" y2="59.4" stroke="#000" stroke-width="0.7"/>
<rect x="455.21" y="43" width="3.88" height="10.6" fill="none" stroke="#0000ff" stroke-width="0.67"/>
<line x1="455.21" y1="47" x2="459.09" y2="47" stroke="#ff0000" stroke-width="0.75"/>
<line x1="464.9" y1="83.8" x2="464.9" y2="82.4" stroke="#000" stroke-width="0.5" stroke-dasharray="1.5 0.9"/>
<line x1="463.7" y1="82.4" x2="466.1" y2="82.4" stroke="#000" stroke-width="0.7"/>
<rect x="462.96" y="83.8" width="3.88" height="1" fill="none" stroke="#0000ff" stroke-width="0.67"/>
<line x1="462.96" y1="84.4" x2="466.84" y2="84.4" stroke="#ff0000" stroke-width="0.55"/>
<line x1="472.65" y1="21.4" x2="472.65" y2="8.5" stroke="#000" stroke-width="0.5" stroke-dasharray="1.5 0.9"/>
<line x1="472.65" y1="40.4" x2="472.65" y2="47" stroke="#000" stroke-width="0.5" stroke-dasharray="1.5 0.9"/>
<line x1="471.45" y1="47" x2="473.85" y2="47" stroke="#000" stroke-width="0.7"/>
<rect x="470.71" y="21.4" width="3.88" height="19" fill="none" stroke="#0000ff" stroke-width="0.67"/>
<line x1="470.71" y1="33.4" x2="474.59" y2="33.4" stroke="#ff0000" stroke-width="0.75"/>
<line x1="478.16" y1="85" x2="482.64" y2="85" stroke="#0000ff" stroke-width="1.15"/>
<line x1="478.46" y1="85" x2="482.34" y2="85" stroke="#ff0000" stroke-width="0.72"/>
<line x1="488.15" y1="52.5" x2="488.15" y2="50.5" stroke="#000" stroke-width="0.5" stroke-dasharray="1.5 0.9"/>
<line x1="486.95" y1="50.5" x2="489.35" y2="50.5" stroke="#000" stroke-width="0.7"/>
<line x1="488.15" y1="75.4" x2="488.15" y2="77" stroke="#000" stroke-width="0.5" stroke-dasharray="1.5 0.9"/>
<line x1="486.95" y1="77" x2="489.35" y2="77" stroke="#000" stroke-width="0.7"/>
<rect x="486.21" y="52.5" width="3.88" height="22.9" fill="none" stroke="#0000ff" stroke-width="0.67"/>
<line x1="486.21" y1="63.4" x2="490.09" y2="63.4" stroke="#ff0000" stroke-width="0.75"/>
<line x1="495.9" y1="77.6" x2="495.9" y2="78.4" stroke="#000" stroke-width="0.5" stroke-dasharray="1.5 0.9"/>
<line x1="494.7" y1="78.4" x2="497.1" y2="78.4" stroke="#000" stroke-width="0.7"/>
<rect x="493.96" y="76.4" width="3.88" height="1.2" fill="none" stroke="#0000ff" stroke-width="0.67"/>
<line x1="493.96" y1="76.8" x2="497.84" y2="76.8" stroke="#ff0000" stroke-width="0.55"/>
<line x1="503.65" y1="83" x2="503.65" y2="81.4" stroke="#000" stroke-width="0.5" stroke-dasharray="1.5 0.9"/>
<line x1="502.45" y1="81.4" x2="504.85" y2="81.4" stroke="#000" stroke-width="0.7"/>
<rect x="501.71" y="83" width="3.88" height="2.4" fill="none" stroke="#0000ff" stroke-width="0.67"/>
<line x1="501.71" y1="84.6" x2="505.59" y2="84.6" stroke="#ff0000" stroke-width="0.75"/>
<line x1="511.4" y1="79.4" x2="511.4" y2="78.4" stroke="#000" stroke-width="0.5" stroke-dasharray="1.5 0.9"/>
<line x1="510.2" y1="78.4" x2="512.6" y2="78.4" stroke="#000" stroke-width="0.7"/>
<rect x="509.46" y="79.4" width="3.88" height="3" fill="none" stroke="#0000ff" stroke-width="0.67"/>
<line x1="509.46" y1="81.4" x2="513.34" y2="81.4" stroke="#ff0000" stroke-width="0.75"/>
<line x1="519.15" y1="74" x2="519.15" y2="72.4" stroke="#000" stroke-width="0.5" stroke-dasharray="1.5 0.9"/>
<line x1="517.95" y1="72.4" x2="520.35" y2="72.4" stroke="#000" stroke-width="0.7"/>
<rect x="517.21" y="74" width="3.88" height="8" fill="none" stroke="#0000ff" stroke-width="0.67"/>
<line x1="517.21" y1="78" x2="521.09" y2="78" stroke="#ff0000" stroke-width="0.75"/>
<rect x="524.96" y="80.4" width="3.88" height="0.8" fill="none" stroke="#0000ff" stroke-width="0.67"/>
<line x1="524.96" y1="80.8" x2="528.84" y2="80.8" stroke="#ff0000" stroke-width="0.55"/>
<rect x="532.71" y="84.4" width="3.88" height="0.8" fill="none" stroke="#0000ff" stroke-width="0.67"/>
<line x1="532.71" y1="84.8" x2="536.59" y2="84.8" stroke="#ff0000" stroke-width="0.55"/>
<rect x="540.46" y="76" width="3.88" height="0.6" fill="none" stroke="#0000ff" stroke-width="0.67"/>
<line x1="540.46" y1="76.4" x2="544.34" y2="76.4" stroke="#ff0000" stroke-width="0.55"/>
<rect x="445.45" y="8.5" width="100.5" height="83.4" fill="none" stroke="#404040" stroke-width="0.76"/>
<line x1="449.4" y1="91.9" x2="449.4" y2="90.55" stroke="#404040" stroke-width="0.55"/>
<line x1="449.4" y1="8.5" x2="449.4" y2="9.85" stroke="#404040" stroke-width="0.55"/>
<text x="451.55" y="93.85" font-size="6.4" text-anchor="end" fill="#262626" transform="rotate(-90 451.55 93.85)">LOA</text>
<line x1="457.15" y1="91.9" x2="457.15" y2="90.55" stroke="#404040" stroke-width="0.55"/>
<line x1="457.15" y1="8.5" x2="457.15" y2="9.85" stroke="#404040" stroke-width="0.55"/>
<text x="459.3" y="93.85" font-size="6.4" text-anchor="end" fill="#262626" transform="rotate(-90 459.3 93.85)">WSO</text>
<line x1="464.9" y1="91.9" x2="464.9" y2="90.55" stroke="#404040" stroke-width="0.55"/>
<line x1="464.9" y1="8.5" x2="464.9" y2="9.85" stroke="#404040" stroke-width="0.55"/>
<text x="467.05" y="93.85" font-size="6.4" text-anchor="end" fill="#262626" transform="rotate(-90 467.05 93.85)">AVOA</text>
<line x1="472.65" y1="91.9" x2="472.65" y2="90.55" stroke="#404040" stroke-width="0.55"/>
<line x1="472.65" y1="8.5" x2="472.65" y2="9.85" stroke="#404040" stroke-width="0.55"/>
<text x="474.8" y="93.85" font-size="6.4" text-anchor="end" fill="#262626" transform="rotate(-90 474.8 93.85)">RSA</text>
<line x1="480.4" y1="91.9" x2="480.4" y2="90.55" stroke="#404040" stroke-width="0.55"/>
<line x1="480.4" y1="8.5" x2="480.4" y2="9.85" stroke="#404040" stroke-width="0.55"/>
<text x="482.55" y="93.85" font-size="6.4" text-anchor="end" fill="#262626" transform="rotate(-90 482.55 93.85)">MPA</text>
<line x1="488.15" y1="91.9" x2="488.15" y2="90.55" stroke="#404040" stroke-width="0.55"/>
<line x1="488.15" y1="8.5" x2="488.15" y2="9.85" stroke="#404040" stroke-width="0.55"/>
<text x="490.3" y="93.85" font-size="6.4" text-anchor="end" fill="#262626" transform="rotate(-90 490.3 93.85)">TSA</text>
<line x1="495.9" y1="91.9" x2="495.9" y2="90.55" stroke="#404040" stroke-width="0.55"/>
<line x1="495.9" y1="8.5" x2="495.9" y2="9.85" stroke="#404040" stroke-width="0.55"/>
<text x="498.05" y="93.85" font-size="6.4" text-anchor="end" fill="#262626" transform="rotate(-90 498.05 93.85)">WOA</text>
<line x1="503.65" y1="91.9" x2="503.65" y2="90.55" stroke="#404040" stroke-width="0.55"/>
<line x1="503.65" y1="8.5" x2="503.65" y2="9.85" stroke="#404040" stroke-width="0.55"/>
<text x="505.8" y="93.85" font-size="6.4" text-anchor="end" fill="#262626" transform="rotate(-90 505.8 93.85)">MVO</text>
<line x1="511.4" y1="91.9" x2="511.4" y2="90.55" stroke="#404040" stroke-width="0.55"/>
<line x1="511.4" y1="8.5" x2="511.4" y2="9.85" stroke="#404040" stroke-width="0.55"/>
<text x="513.55" y="93.85" font-size="6.4" text-anchor="end" fill="#262626" transform="rotate(-90 513.55 93.85)">GWO</text>
<line x1="519.15" y1="91.9" x2="519.15" y2="90.55" stroke="#404040" stroke-width="0.55"/>
<line x1="519.15" y1="8.5" x2="519.15" y2="9.85" stroke="#404040" stroke-width="0.55"/>
<text x="521.3" y="93.85" font-size="6.4" text-anchor="end" fill="#262626" transform="rotate(-90 521.3 93.85)">TLBO</text>
<line x1="526.9" y1="91.9" x2="526.9" y2="90.55" stroke="#404040" stroke-width="0.55"/>
<line x1="526.9" y1="8.5" x2="526.9" y2="9.85" stroke="#404040" stroke-width="0.55"/>
<text x="529.05" y="93.85" font-size="6.4" text-anchor="end" fill="#262626" transform="rotate(-90 529.05 93.85)">GSA</text>
<line x1="534.65" y1="91.9" x2="534.65" y2="90.55" stroke="#404040" stroke-width="0.55"/>
<line x1="534.65" y1="8.5" x2="534.65" y2="9.85" stroke="#404040" stroke-width="0.55"/>
<text x="536.8" y="93.85" font-size="6.4" text-anchor="end" fill="#262626" transform="rotate(-90 536.8 93.85)">PSO</text>
<line x1="542.4" y1="91.9" x2="542.4" y2="90.55" stroke="#404040" stroke-width="0.55"/>
<line x1="542.4" y1="8.5" x2="542.4" y2="9.85" stroke="#404040" stroke-width="0.55"/>
<text x="544.55" y="93.85" font-size="6.4" text-anchor="end" fill="#262626" transform="rotate(-90 544.55 93.85)">GA</text>
<line x1="445.45" y1="18" x2="446.8" y2="18" stroke="#404040" stroke-width="0.55"/>
<line x1="545.95" y1="18" x2="544.6" y2="18" stroke="#404040" stroke-width="0.55"/>
<text x="444.05" y="20.15" font-size="6.4" text-anchor="end" fill="#262626">5000</text>
<line x1="445.45" y1="31" x2="446.8" y2="31" stroke="#404040" stroke-width="0.55"/>
<line x1="545.95" y1="31" x2="544.6" y2="31" stroke="#404040" stroke-width="0.55"/>
<text x="444.05" y="33.15" font-size="6.4" text-anchor="end" fill="#262626">4500</text>
<line x1="445.45" y1="45.6" x2="446.8" y2="45.6" stroke="#404040" stroke-width="0.55"/>
<line x1="545.95" y1="45.6" x2="544.6" y2="45.6" stroke="#404040" stroke-width="0.55"/>
<text x="444.05" y="47.75" font-size="6.4" text-anchor="end" fill="#262626">4000</text>
<line x1="445.45" y1="61.5" x2="446.8" y2="61.5" stroke="#404040" stroke-width="0.55"/>
<line x1="545.95" y1="61.5" x2="544.6" y2="61.5" stroke="#404040" stroke-width="0.55"/>
<text x="444.05" y="63.65" font-size="6.4" text-anchor="end" fill="#262626">3500</text>
<line x1="445.45" y1="80.4" x2="446.8" y2="80.4" stroke="#404040" stroke-width="0.55"/>
<line x1="545.95" y1="80.4" x2="544.6" y2="80.4" stroke="#404040" stroke-width="0.55"/>
<text x="444.05" y="82.55" font-size="6.4" text-anchor="end" fill="#262626">3000</text>
<line x1="445.45" y1="88.84" x2="446.19" y2="88.84" stroke="#404040" stroke-width="0.4"/>
<line x1="545.95" y1="88.84" x2="545.21" y2="88.84" stroke="#404040" stroke-width="0.4"/>
<line x1="445.45" y1="84.56" x2="446.19" y2="84.56" stroke="#404040" stroke-width="0.4"/>
<line x1="545.95" y1="84.56" x2="545.21" y2="84.56" stroke="#404040" stroke-width="0.4"/>
<line x1="445.45" y1="76.43" x2="446.19" y2="76.43" stroke="#404040" stroke-width="0.4"/>
<line x1="545.95" y1="76.43" x2="545.21" y2="76.43" stroke="#404040" stroke-width="0.4"/>
<line x1="445.45" y1="72.56" x2="446.19" y2="72.56" stroke="#404040" stroke-width="0.4"/>
<line x1="545.95" y1="72.56" x2="545.21" y2="72.56" stroke="#404040" stroke-width="0.4"/>
<line x1="445.45" y1="68.8" x2="446.19" y2="68.8" stroke="#404040" stroke-width="0.4"/>
<line x1="545.95" y1="68.8" x2="545.21" y2="68.8" stroke="#404040" stroke-width="0.4"/>
<line x1="445.45" y1="65.16" x2="446.19" y2="65.16" stroke="#404040" stroke-width="0.4"/>
<line x1="545.95" y1="65.16" x2="545.21" y2="65.16" stroke="#404040" stroke-width="0.4"/>
<line x1="445.45" y1="58.19" x2="446.19" y2="58.19" stroke="#404040" stroke-width="0.4"/>
<line x1="545.95" y1="58.19" x2="545.21" y2="58.19" stroke="#404040" stroke-width="0.4"/>
<line x1="445.45" y1="54.85" x2="446.19" y2="54.85" stroke="#404040" stroke-width="0.4"/>
<line x1="545.95" y1="54.85" x2="545.21" y2="54.85" stroke="#404040" stroke-width="0.4"/>
<line x1="445.45" y1="51.6" x2="446.19" y2="51.6" stroke="#404040" stroke-width="0.4"/>
<line x1="545.95" y1="51.6" x2="545.21" y2="51.6" stroke="#404040" stroke-width="0.4"/>
<line x1="445.45" y1="48.43" x2="446.19" y2="48.43" stroke="#404040" stroke-width="0.4"/>
<line x1="545.95" y1="48.43" x2="545.21" y2="48.43" stroke="#404040" stroke-width="0.4"/>
<line x1="445.45" y1="42.33" x2="446.19" y2="42.33" stroke="#404040" stroke-width="0.4"/>
<line x1="545.95" y1="42.33" x2="545.21" y2="42.33" stroke="#404040" stroke-width="0.4"/>
<line x1="445.45" y1="39.39" x2="446.19" y2="39.39" stroke="#404040" stroke-width="0.4"/>
<line x1="545.95" y1="39.39" x2="545.21" y2="39.39" stroke="#404040" stroke-width="0.4"/>
<line x1="445.45" y1="36.52" x2="446.19" y2="36.52" stroke="#404040" stroke-width="0.4"/>
<line x1="545.95" y1="36.52" x2="545.21" y2="36.52" stroke="#404040" stroke-width="0.4"/>
<line x1="445.45" y1="33.72" x2="446.19" y2="33.72" stroke="#404040" stroke-width="0.4"/>
<line x1="545.95" y1="33.72" x2="545.21" y2="33.72" stroke="#404040" stroke-width="0.4"/>
<line x1="445.45" y1="28.3" x2="446.19" y2="28.3" stroke="#404040" stroke-width="0.4"/>
<line x1="545.95" y1="28.3" x2="545.21" y2="28.3" stroke="#404040" stroke-width="0.4"/>
<line x1="445.45" y1="25.67" x2="446.19" y2="25.67" stroke="#404040" stroke-width="0.4"/>
<line x1="545.95" y1="25.67" x2="545.21" y2="25.67" stroke="#404040" stroke-width="0.4"/>
<line x1="445.45" y1="23.1" x2="446.19" y2="23.1" stroke="#404040" stroke-width="0.4"/>
<line x1="545.95" y1="23.1" x2="545.21" y2="23.1" stroke="#404040" stroke-width="0.4"/>
<line x1="445.45" y1="20.59" x2="446.19" y2="20.59" stroke="#404040" stroke-width="0.4"/>
<line x1="545.95" y1="20.59" x2="545.21" y2="20.59" stroke="#404040" stroke-width="0.4"/>
<line x1="445.45" y1="15.71" x2="446.19" y2="15.71" stroke="#404040" stroke-width="0.4"/>
<line x1="545.95" y1="15.71" x2="545.21" y2="15.71" stroke="#404040" stroke-width="0.4"/>
<line x1="445.45" y1="13.34" x2="446.19" y2="13.34" stroke="#404040" stroke-width="0.4"/>
<line x1="545.95" y1="13.34" x2="545.21" y2="13.34" stroke="#404040" stroke-width="0.4"/>
<line x1="445.45" y1="11.02" x2="446.19" y2="11.02" stroke="#404040" stroke-width="0.4"/>
<line x1="545.95" y1="11.02" x2="545.21" y2="11.02" stroke="#404040" stroke-width="0.4"/>
<text x="495.7" y="7" font-size="7.15" text-anchor="middle" fill="#000" font-weight="bold">C17-F25</text>
<text x="495.7" y="118.45" font-size="7.15" text-anchor="middle" fill="#262626">algorithm</text>
<text x="427.6" y="50.2" font-size="7.15" text-anchor="middle" fill="#262626" transform="rotate(-90 427.6 50.2)">objective function</text>
</g>
<g>
<rect x="29.37" y="194.2" width="3.74" height="0.8" fill="none" stroke="#0000ff" stroke-width="0.67"/>
<line x1="29.37" y1="194.6" x2="33.11" y2="194.6" stroke="#ff0000" stroke-width="0.55"/>
<line x1="38.72" y1="140.4" x2="38.72" y2="138.4" stroke="#000" stroke-width="0.5" stroke-dasharray="1.5 0.9"/>
<line x1="37.56" y1="138.4" x2="39.87" y2="138.4" stroke="#000" stroke-width="0.7"/>
<rect x="36.85" y="140.4" width="3.74" height="5" fill="none" stroke="#0000ff" stroke-width="0.67"/>
<line x1="36.85" y1="144.6" x2="40.58" y2="144.6" stroke="#ff0000" stroke-width="0.75"/>
<line x1="46.19" y1="151" x2="46.19" y2="150" stroke="#000" stroke-width="0.5" stroke-dasharray="1.5 0.9"/>
<line x1="45.03" y1="150" x2="47.35" y2="150" stroke="#000" stroke-width="0.7"/>
<line x1="46.19" y1="160.6" x2="46.19" y2="166" stroke="#000" stroke-width="0.5" stroke-dasharray="1.5 0.9"/>
<line x1="45.03" y1="166" x2="47.35" y2="166" stroke="#000" stroke-width="0.7"/>
<rect x="44.32" y="151" width="3.74" height="9.6" fill="none" stroke="#0000ff" stroke-width="0.67"/>
<line x1="44.32" y1="153.4" x2="48.06" y2="153.4" stroke="#ff0000" stroke-width="0.75"/>
<line x1="53.67" y1="135" x2="53.67" y2="130.4" stroke="#000" stroke-width="0.5" stroke-dasharray="1.5 0.9"/>
<line x1="52.51" y1="130.4" x2="54.83" y2="130.4" stroke="#000" stroke-width="0.7"/>
<rect x="51.8" y="135" width="3.74" height="9" fill="none" stroke="#0000ff" stroke-width="0.67"/>
<line x1="51.8" y1="141.6" x2="55.54" y2="141.6" stroke="#ff0000" stroke-width="0.75"/>
<line x1="59.08" y1="205.2" x2="63.22" y2="205.2" stroke="#ff0000" stroke-width="0.9"/>
<line x1="68.62" y1="144" x2="68.62" y2="143" stroke="#000" stroke-width="0.5" stroke-dasharray="1.5 0.9"/>
<line x1="67.46" y1="143" x2="69.78" y2="143" stroke="#000" stroke-width="0.7"/>
<line x1="68.62" y1="147.4" x2="68.62" y2="150" stroke="#000" stroke-width="0.5" stroke-dasharray="1.5 0.9"/>
<line x1="67.46" y1="150" x2="69.78" y2="150" stroke="#000" stroke-width="0.7"/>
<rect x="66.75" y="144" width="3.74" height="3.4" fill="none" stroke="#0000ff" stroke-width="0.67"/>
<line x1="66.75" y1="145" x2="70.49" y2="145" stroke="#ff0000" stroke-width="0.75"/>
<line x1="76.1" y1="145.4" x2="76.1" y2="142.4" stroke="#000" stroke-width="0.5" stroke-dasharray="1.5 0.9"/>
<line x1="74.94" y1="142.4" x2="77.26" y2="142.4" stroke="#000" stroke-width="0.7"/>
<line x1="76.1" y1="151" x2="76.1" y2="153.4" stroke="#000" stroke-width="0.5" stroke-dasharray="1.5 0.9"/>
<line x1="74.94" y1="153.4" x2="77.26" y2="153.4" stroke="#000" stroke-width="0.7"/>
<rect x="74.23" y="145.4" width="3.74" height="5.6" fill="none" stroke="#0000ff" stroke-width="0.67"/>
<line x1="74.23" y1="148.4" x2="77.97" y2="148.4" stroke="#ff0000" stroke-width="0.75"/>
<line x1="83.58" y1="175.4" x2="83.58" y2="172" stroke="#000" stroke-width="0.5" stroke-dasharray="1.5 0.9"/>
<line x1="82.42" y1="172" x2="84.74" y2="172" stroke="#000" stroke-width="0.7"/>
<rect x="81.71" y="175.4" width="3.74" height="7.6" fill="none" stroke="#0000ff" stroke-width="0.67"/>
<line x1="81.71" y1="180.4" x2="85.45" y2="180.4" stroke="#ff0000" stroke-width="0.75"/>
<line x1="91.05" y1="178.4" x2="91.05" y2="175" stroke="#000" stroke-width="0.5" stroke-dasharray="1.5 0.9"/>
<line x1="89.89" y1="175" x2="92.21" y2="175" stroke="#000" stroke-width="0.7"/>
<line x1="91.05" y1="184.6" x2="91.05" y2="186.4" stroke="#000" stroke-width="0.5" stroke-dasharray="1.5 0.9"/>
<line x1="89.89" y1="186.4" x2="92.21" y2="186.4" stroke="#000" stroke-width="0.7"/>
<rect x="89.18" y="178.4" width="3.74" height="6.2" fill="none" stroke="#0000ff" stroke-width="0.67"/>
<line x1="89.18" y1="182.4" x2="92.92" y2="182.4" stroke="#ff0000" stroke-width="0.75"/>
<line x1="98.53" y1="158.4" x2="98.53" y2="156" stroke="#000" stroke-width="0.5" stroke-dasharray="1.5 0.9"/>
<line x1="97.37" y1="156" x2="99.69" y2="156" stroke="#000" stroke-width="0.7"/>
<line x1="98.53" y1="177.4" x2="98.53" y2="181.6" stroke="#000" stroke-width="0.5" stroke-dasharray="1.5 0.9"/>
<line x1="97.37" y1="181.6" x2="99.69" y2="181.6" stroke="#000" stroke-width="0.7"/>
<rect x="96.66" y="158.4" width="3.74" height="19" fill="none" stroke="#0000ff" stroke-width="0.67"/>
<line x1="96.66" y1="166.6" x2="100.4" y2="166.6" stroke="#ff0000" stroke-width="0.75"/>
<line x1="106.01" y1="158.4" x2="106.01" y2="162.4" stroke="#000" stroke-width="0.5" stroke-dasharray="1.5 0.9"/>
<line x1="104.85" y1="162.4" x2="107.17" y2="162.4" stroke="#000" stroke-width="0.7"/>
<rect x="104.14" y="150.6" width="3.74" height="7.8" fill="none" stroke="#0000ff" stroke-width="0.67"/>
<line x1="104.14" y1="152.4" x2="107.88" y2="152.4" stroke="#ff0000" stroke-width="0.75"/>
<line x1="113.48" y1="167" x2="113.48" y2="163.6" stroke="#000" stroke-width="0.5" stroke-dasharray="1.5 0.9"/>
<line x1="112.33" y1="163.6" x2="114.64" y2="163.6" stroke="#000" stroke-width="0.7"/>
<line x1="113.48" y1="192.4" x2="113.48" y2="195" stroke="#000" stroke-width="0.5" stroke-dasharray="1.5 0.9"/>
<line x1="112.33" y1="195" x2="114.64" y2="195" stroke="#000" stroke-width="0.7"/>
<rect x="111.62" y="167" width="3.74" height="25.4" fill="none" stroke="#0000ff" stroke-width="0.67"/>
<line x1="111.62" y1="179.4" x2="115.35" y2="179.4" stroke="#ff0000" stroke-width="0.75"/>
<line x1="120.96" y1="180.4" x2="120.96" y2="178" stroke="#000" stroke-width="0.5" stroke-dasharray="1.5 0.9"/>
<line x1="119.8" y1="178" x2="122.12" y2="178" stroke="#000" stroke-width="0.7"/>
<line x1="120.96" y1="187.2" x2="120.96" y2="188.6" stroke="#000" stroke-width="0.5" stroke-dasharray="1.5 0.9"/>
<line x1="119.8" y1="188.6" x2="122.12" y2="188.6" stroke="#000" stroke-width="0.7"/>
<rect x="119.09" y="180.4" width="3.74" height="6.8" fill="none" stroke="#0000ff" stroke-width="0.67"/>
<line x1="119.09" y1="183.8" x2="122.83" y2="183.8" stroke="#ff0000" stroke-width="0.75"/>
<rect x="27.5" y="129.55" width="97.2" height="83.85" fill="none" stroke="#404040" stroke-width="0.76"/>
<line x1="31.24" y1="213.4" x2="31.24" y2="212.05" stroke="#404040" stroke-width="0.55"/>
<line x1="31.24" y1="129.55" x2="31.24" y2="130.9" stroke="#404040" stroke-width="0.55"/>
<text x="33.39" y="214.65" font-size="6.4" text-anchor="end" fill="#262626" transform="rotate(-90 33.39 214.65)">LOA</text>
<line x1="38.72" y1="213.4" x2="38.72" y2="212.05" stroke="#404040" stroke-width="0.55"/>
<line x1="38.72" y1="129.55" x2="38.72" y2="130.9" stroke="#404040" stroke-width="0.55"/>
<text x="40.87" y="214.65" font-size="6.4" text-anchor="end" fill="#262626" transform="rotate(-90 40.87 214.65)">WSO</text>
<line x1="46.19" y1="213.4" x2="46.19" y2="212.05" stroke="#404040" stroke-width="0.55"/>
<line x1="46.19" y1="129.55" x2="46.19" y2="130.9" stroke="#404040" stroke-width="0.55"/>
<text x="48.34" y="214.65" font-size="6.4" text-anchor="end" fill="#262626" transform="rotate(-90 48.34 214.65)">AVOA</text>
<line x1="53.67" y1="213.4" x2="53.67" y2="212.05" stroke="#404040" stroke-width="0.55"/>
<line x1="53.67" y1="129.55" x2="53.67" y2="130.9" stroke="#404040" stroke-width="0.55"/>
<text x="55.82" y="214.65" font-size="6.4" text-anchor="end" fill="#262626" transform="rotate(-90 55.82 214.65)">RSA</text>
<line x1="61.15" y1="213.4" x2="61.15" y2="212.05" stroke="#404040" stroke-width="0.55"/>
<line x1="61.15" y1="129.55" x2="61.15" y2="130.9" stroke="#404040" stroke-width="0.55"/>
<text x="63.3" y="214.65" font-size="6.4" text-anchor="end" fill="#262626" transform="rotate(-90 63.3 214.65)">MPA</text>
<line x1="68.62" y1="213.4" x2="68.62" y2="212.05" stroke="#404040" stroke-width="0.55"/>
<line x1="68.62" y1="129.55" x2="68.62" y2="130.9" stroke="#404040" stroke-width="0.55"/>
<text x="70.77" y="214.65" font-size="6.4" text-anchor="end" fill="#262626" transform="rotate(-90 70.77 214.65)">TSA</text>
<line x1="76.1" y1="213.4" x2="76.1" y2="212.05" stroke="#404040" stroke-width="0.55"/>
<line x1="76.1" y1="129.55" x2="76.1" y2="130.9" stroke="#404040" stroke-width="0.55"/>
<text x="78.25" y="214.65" font-size="6.4" text-anchor="end" fill="#262626" transform="rotate(-90 78.25 214.65)">WOA</text>
<line x1="83.58" y1="213.4" x2="83.58" y2="212.05" stroke="#404040" stroke-width="0.55"/>
<line x1="83.58" y1="129.55" x2="83.58" y2="130.9" stroke="#404040" stroke-width="0.55"/>
<text x="85.73" y="214.65" font-size="6.4" text-anchor="end" fill="#262626" transform="rotate(-90 85.73 214.65)">MVO</text>
<line x1="91.05" y1="213.4" x2="91.05" y2="212.05" stroke="#404040" stroke-width="0.55"/>
<line x1="91.05" y1="129.55" x2="91.05" y2="130.9" stroke="#404040" stroke-width="0.55"/>
<text x="93.2" y="214.65" font-size="6.4" text-anchor="end" fill="#262626" transform="rotate(-90 93.2 214.65)">GWO</text>
<line x1="98.53" y1="213.4" x2="98.53" y2="212.05" stroke="#404040" stroke-width="0.55"/>
<line x1="98.53" y1="129.55" x2="98.53" y2="130.9" stroke="#404040" stroke-width="0.55"/>
<text x="100.68" y="214.65" font-size="6.4" text-anchor="end" fill="#262626" transform="rotate(-90 100.68 214.65)">TLBO</text>
<line x1="106.01" y1="213.4" x2="106.01" y2="212.05" stroke="#404040" stroke-width="0.55"/>
<line x1="106.01" y1="129.55" x2="106.01" y2="130.9" stroke="#404040" stroke-width="0.55"/>
<text x="108.16" y="214.65" font-size="6.4" text-anchor="end" fill="#262626" transform="rotate(-90 108.16 214.65)">GSA</text>
<line x1="113.48" y1="213.4" x2="113.48" y2="212.05" stroke="#404040" stroke-width="0.55"/>
<line x1="113.48" y1="129.55" x2="113.48" y2="130.9" stroke="#404040" stroke-width="0.55"/>
<text x="115.63" y="214.65" font-size="6.4" text-anchor="end" fill="#262626" transform="rotate(-90 115.63 214.65)">PSO</text>
<line x1="120.96" y1="213.4" x2="120.96" y2="212.05" stroke="#404040" stroke-width="0.55"/>
<line x1="120.96" y1="129.55" x2="120.96" y2="130.9" stroke="#404040" stroke-width="0.55"/>
<text x="123.11" y="214.65" font-size="6.4" text-anchor="end" fill="#262626" transform="rotate(-90 123.11 214.65)">GA</text>
<line x1="27.5" y1="137" x2="28.85" y2="137" stroke="#404040" stroke-width="0.55"/>
<line x1="124.7" y1="137" x2="123.35" y2="137" stroke="#404040" stroke-width="0.55"/>
<text x="26.1" y="139.15" font-size="6.4" text-anchor="end" fill="#262626">10000</text>
<line x1="27.5" y1="149.4" x2="28.85" y2="149.4" stroke="#404040" stroke-width="0.55"/>
<line x1="124.7" y1="149.4" x2="123.35" y2="149.4" stroke="#404040" stroke-width="0.55"/>
<text x="26.1" y="151.55" font-size="6.4" text-anchor="end" fill="#262626">8000</text>
<line x1="27.5" y1="165.6" x2="28.85" y2="165.6" stroke="#404040" stroke-width="0.55"/>
<line x1="124.7" y1="165.6" x2="123.35" y2="165.6" stroke="#404040" stroke-width="0.55"/>
<text x="26.1" y="167.75" font-size="6.4" text-anchor="end" fill="#262626">6000</text>
<line x1="27.5" y1="188.4" x2="28.85" y2="188.4" stroke="#404040" stroke-width="0.55"/>
<line x1="124.7" y1="188.4" x2="123.35" y2="188.4" stroke="#404040" stroke-width="0.55"/>
<text x="26.1" y="190.55" font-size="6.4" text-anchor="end" fill="#262626">4000</text>
<line x1="27.5" y1="204.52" x2="28.24" y2="204.52" stroke="#404040" stroke-width="0.4"/>
<line x1="124.7" y1="204.52" x2="123.96" y2="204.52" stroke="#404040" stroke-width="0.4"/>
<line x1="27.5" y1="175.85" x2="28.24" y2="175.85" stroke="#404040" stroke-width="0.4"/>
<line x1="124.7" y1="175.85" x2="123.96" y2="175.85" stroke="#404040" stroke-width="0.4"/>
<line x1="27.5" y1="156.96" x2="28.24" y2="156.96" stroke="#404040" stroke-width="0.4"/>
<line x1="124.7" y1="156.96" x2="123.96" y2="156.96" stroke="#404040" stroke-width="0.4"/>
<line x1="27.5" y1="142.86" x2="28.24" y2="142.86" stroke="#404040" stroke-width="0.4"/>
<line x1="124.7" y1="142.86" x2="123.96" y2="142.86" stroke="#404040" stroke-width="0.4"/>
<line x1="27.5" y1="131.59" x2="28.24" y2="131.59" stroke="#404040" stroke-width="0.4"/>
<line x1="124.7" y1="131.59" x2="123.96" y2="131.59" stroke="#404040" stroke-width="0.4"/>
<text x="76.1" y="128.05" font-size="7.15" text-anchor="middle" fill="#000" font-weight="bold">C17-F26</text>
<text x="76.1" y="240.3" font-size="7.15" text-anchor="middle" fill="#262626">algorithm</text>
<text x="6.6" y="171.48" font-size="7.15" text-anchor="middle" fill="#262626" transform="rotate(-90 6.6 171.48)">objective function</text>
</g>
<g>
<line x1="166.32" y1="207.6" x2="170.78" y2="207.6" stroke="#0000ff" stroke-width="0.75"/>
<line x1="166.62" y1="207.6" x2="170.48" y2="207.6" stroke="#ff0000" stroke-width="0.72"/>
<line x1="176.29" y1="189.4" x2="176.29" y2="187.6" stroke="#000" stroke-width="0.5" stroke-dasharray="1.5 0.9"/>
<line x1="175.09" y1="187.6" x2="177.49" y2="187.6" stroke="#000" stroke-width="0.7"/>
<rect x="174.35" y="189.4" width="3.87" height="4.2" fill="none" stroke="#0000ff" stroke-width="0.67"/>
<line x1="174.35" y1="192.4" x2="178.22" y2="192.4" stroke="#ff0000" stroke-width="0.75"/>
<rect x="182.09" y="198.6" width="3.87" height="6" fill="none" stroke="#0000ff" stroke-width="0.67"/>
<line x1="182.09" y1="201.4" x2="185.96" y2="201.4" stroke="#ff0000" stroke-width="0.75"/>
<line x1="191.76" y1="179" x2="191.76" y2="175.6" stroke="#000" stroke-width="0.5" stroke-dasharray="1.5 0.9"/>
<line x1="190.56" y1="175.6" x2="192.96" y2="175.6" stroke="#000" stroke-width="0.7"/>
<line x1="191.76" y1="192" x2="191.76" y2="196" stroke="#000" stroke-width="0.5" stroke-dasharray="1.5 0.9"/>
<line x1="190.56" y1="196" x2="192.96" y2="196" stroke="#000" stroke-width="0.7"/>
<rect x="189.83" y="179" width="3.87" height="13" fill="none" stroke="#0000ff" stroke-width="0.67"/>
<line x1="189.83" y1="185.4" x2="193.7" y2="185.4" stroke="#ff0000" stroke-width="0.75"/>
<rect x="197.57" y="206.8" width="3.87" height="1" fill="none" stroke="#0000ff" stroke-width="0.67"/>
<line x1="197.57" y1="207.4" x2="201.43" y2="207.4" stroke="#ff0000" stroke-width="0.55"/>
<line x1="207.24" y1="192" x2="207.24" y2="187.6" stroke="#000" stroke-width="0.5" stroke-dasharray="1.5 0.9"/>
<line x1="206.04" y1="187.6" x2="208.44" y2="187.6" stroke="#000" stroke-width="0.7"/>
<rect x="205.3" y="192" width="3.87" height="9.4" fill="none" stroke="#0000ff" stroke-width="0.67"/>
<line x1="205.3" y1="199.4" x2="209.17" y2="199.4" stroke="#ff0000" stroke-width="0.75"/>
<line x1="214.97" y1="195" x2="214.97" y2="193.6" stroke="#000" stroke-width="0.5" stroke-dasharray="1.5 0.9"/>
<line x1="213.78" y1="193.6" x2="216.17" y2="193.6" stroke="#000" stroke-width="0.7"/>
<line x1="214.97" y1="202.4" x2="214.97" y2="205.4" stroke="#000" stroke-width="0.5" stroke-dasharray="1.5 0.9"/>
<line x1="213.78" y1="205.4" x2="216.17" y2="205.4" stroke="#000" stroke-width="0.7"/>
<rect x="213.04" y="195" width="3.87" height="7.4" fill="none" stroke="#0000ff" stroke-width="0.67"/>
<line x1="213.04" y1="197.4" x2="216.91" y2="197.4" stroke="#ff0000" stroke-width="0.75"/>
<rect x="220.78" y="206.2" width="3.87" height="1" fill="none" stroke="#0000ff" stroke-width="0.67"/>
<line x1="220.78" y1="206.8" x2="224.65" y2="206.8" stroke="#ff0000" stroke-width="0.55"/>
<rect x="228.52" y="205.6" width="3.87" height="0.6" fill="none" stroke="#0000ff" stroke-width="0.67"/>
<line x1="228.52" y1="206" x2="232.38" y2="206" stroke="#ff0000" stroke-width="0.55"/>
<line x1="238.19" y1="201" x2="238.19" y2="200" stroke="#000" stroke-width="0.5" stroke-dasharray="1.5 0.9"/>
<line x1="236.99" y1="200" x2="239.39" y2="200" stroke="#000" stroke-width="0.7"/>
<line x1="238.19" y1="205" x2="238.19" y2="206" stroke="#000" stroke-width="0.5" stroke-dasharray="1.5 0.9"/>
<line x1="236.99" y1="206" x2="239.39" y2="206" stroke="#000" stroke-width="0.7"/>
<rect x="236.25" y="201" width="3.87" height="4" fill="none" stroke="#0000ff" stroke-width="0.67"/>
<line x1="236.25" y1="203" x2="240.12" y2="203" stroke="#ff0000" stroke-width="0.75"/>
<line x1="245.92" y1="156" x2="245.92" y2="160" stroke="#000" stroke-width="0.5" stroke-dasharray="1.5 0.9"/>
<line x1="244.73" y1="160" x2="247.12" y2="160" stroke="#000" stroke-width="0.7"/>
<rect x="243.99" y="138.4" width="3.87" height="17.6" fill="none" stroke="#0000ff" stroke-width="0.67"/>
<line x1="243.99" y1="145.4" x2="247.86" y2="145.4" stroke="#ff0000" stroke-width="0.75"/>
<rect x="251.73" y="203.4" width="3.87" height="2.6" fill="none" stroke="#0000ff" stroke-width="0.67"/>
<line x1="251.73" y1="205" x2="255.6" y2="205" stroke="#ff0000" stroke-width="0.75"/>
<line x1="261.4" y1="195.4" x2="261.4" y2="194.4" stroke="#000" stroke-width="0.5" stroke-dasharray="1.5 0.9"/>
<line x1="260.2" y1="194.4" x2="262.6" y2="194.4" stroke="#000" stroke-width="0.7"/>
<line x1="261.4" y1="199" x2="261.4" y2="200.4" stroke="#000" stroke-width="0.5" stroke-dasharray="1.5 0.9"/>
<line x1="260.2" y1="200.4" x2="262.6" y2="200.4" stroke="#000" stroke-width="0.7"/>
<rect x="259.47" y="195.4" width="3.87" height="3.6" fill="none" stroke="#0000ff" stroke-width="0.67"/>
<line x1="259.47" y1="197" x2="263.33" y2="197" stroke="#ff0000" stroke-width="0.75"/>
<rect x="164.6" y="129.55" width="100.55" height="83.85" fill="none" stroke="#404040" stroke-width="0.76"/>
<line x1="168.55" y1="213.4" x2="168.55" y2="212.05" stroke="#404040" stroke-width="0.55"/>
<line x1="168.55" y1="129.55" x2="168.55" y2="130.9" stroke="#404040" stroke-width="0.55"/>
<text x="170.7" y="214.65" font-size="6.4" text-anchor="end" fill="#262626" transform="rotate(-90 170.7 214.65)">LOA</text>
<line x1="176.29" y1="213.4" x2="176.29" y2="212.05" stroke="#404040" stroke-width="0.55"/>
<line x1="176.29" y1="129.55" x2="176.29" y2="130.9" stroke="#404040" stroke-width="0.55"/>
<text x="178.44" y="214.65" font-size="6.4" text-anchor="end" fill="#262626" transform="rotate(-90 178.44 214.65)">WSO</text>
<line x1="184.03" y1="213.4" x2="184.03" y2="212.05" stroke="#404040" stroke-width="0.55"/>
<line x1="184.03" y1="129.55" x2="184.03" y2="130.9" stroke="#404040" stroke-width="0.55"/>
<text x="186.18" y="214.65" font-size="6.4" text-anchor="end" fill="#262626" transform="rotate(-90 186.18 214.65)">AVOA</text>
<line x1="191.76" y1="213.4" x2="191.76" y2="212.05" stroke="#404040" stroke-width="0.55"/>
<line x1="191.76" y1="129.55" x2="191.76" y2="130.9" stroke="#404040" stroke-width="0.55"/>
<text x="193.91" y="214.65" font-size="6.4" text-anchor="end" fill="#262626" transform="rotate(-90 193.91 214.65)">RSA</text>
<line x1="199.5" y1="213.4" x2="199.5" y2="212.05" stroke="#404040" stroke-width="0.55"/>
<line x1="199.5" y1="129.55" x2="199.5" y2="130.9" stroke="#404040" stroke-width="0.55"/>
<text x="201.65" y="214.65" font-size="6.4" text-anchor="end" fill="#262626" transform="rotate(-90 201.65 214.65)">MPA</text>
<line x1="207.24" y1="213.4" x2="207.24" y2="212.05" stroke="#404040" stroke-width="0.55"/>
<line x1="207.24" y1="129.55" x2="207.24" y2="130.9" stroke="#404040" stroke-width="0.55"/>
<text x="209.39" y="214.65" font-size="6.4" text-anchor="end" fill="#262626" transform="rotate(-90 209.39 214.65)">TSA</text>
<line x1="214.97" y1="213.4" x2="214.97" y2="212.05" stroke="#404040" stroke-width="0.55"/>
<line x1="214.97" y1="129.55" x2="214.97" y2="130.9" stroke="#404040" stroke-width="0.55"/>
<text x="217.12" y="214.65" font-size="6.4" text-anchor="end" fill="#262626" transform="rotate(-90 217.12 214.65)">WOA</text>
<line x1="222.71" y1="213.4" x2="222.71" y2="212.05" stroke="#404040" stroke-width="0.55"/>
<line x1="222.71" y1="129.55" x2="222.71" y2="130.9" stroke="#404040" stroke-width="0.55"/>
<text x="224.86" y="214.65" font-size="6.4" text-anchor="end" fill="#262626" transform="rotate(-90 224.86 214.65)">MVO</text>
<line x1="230.45" y1="213.4" x2="230.45" y2="212.05" stroke="#404040" stroke-width="0.55"/>
<line x1="230.45" y1="129.55" x2="230.45" y2="130.9" stroke="#404040" stroke-width="0.55"/>
<text x="232.6" y="214.65" font-size="6.4" text-anchor="end" fill="#262626" transform="rotate(-90 232.6 214.65)">GWO</text>
<line x1="238.19" y1="213.4" x2="238.19" y2="212.05" stroke="#404040" stroke-width="0.55"/>
<line x1="238.19" y1="129.55" x2="238.19" y2="130.9" stroke="#404040" stroke-width="0.55"/>
<text x="240.34" y="214.65" font-size="6.4" text-anchor="end" fill="#262626" transform="rotate(-90 240.34 214.65)">TLBO</text>
<line x1="245.92" y1="213.4" x2="245.92" y2="212.05" stroke="#404040" stroke-width="0.55"/>
<line x1="245.92" y1="129.55" x2="245.92" y2="130.9" stroke="#404040" stroke-width="0.55"/>
<text x="248.07" y="214.65" font-size="6.4" text-anchor="end" fill="#262626" transform="rotate(-90 248.07 214.65)">GSA</text>
<line x1="253.66" y1="213.4" x2="253.66" y2="212.05" stroke="#404040" stroke-width="0.55"/>
<line x1="253.66" y1="129.55" x2="253.66" y2="130.9" stroke="#404040" stroke-width="0.55"/>
<text x="255.81" y="214.65" font-size="6.4" text-anchor="end" fill="#262626" transform="rotate(-90 255.81 214.65)">PSO</text>
<line x1="261.4" y1="213.4" x2="261.4" y2="212.05" stroke="#404040" stroke-width="0.55"/>
<line x1="261.4" y1="129.55" x2="261.4" y2="130.9" stroke="#404040" stroke-width="0.55"/>
<text x="263.55" y="214.65" font-size="6.4" text-anchor="end" fill="#262626" transform="rotate(-90 263.55 214.65)">GA</text>
<line x1="164.6" y1="131.6" x2="165.95" y2="131.6" stroke="#404040" stroke-width="0.55"/>
<line x1="265.15" y1="131.6" x2="263.8" y2="131.6" stroke="#404040" stroke-width="0.55"/>
<text x="163.2" y="133.75" font-size="6.4" text-anchor="end" fill="#262626">5500</text>
<line x1="164.6" y1="144.6" x2="165.95" y2="144.6" stroke="#404040" stroke-width="0.55"/>
<line x1="265.15" y1="144.6" x2="263.8" y2="144.6" stroke="#404040" stroke-width="0.55"/>
<text x="163.2" y="146.75" font-size="6.4" text-anchor="end" fill="#262626">5000</text>
<line x1="164.6" y1="159.6" x2="165.95" y2="159.6" stroke="#404040" stroke-width="0.55"/>
<line x1="265.15" y1="159.6" x2="263.8" y2="159.6" stroke="#404040" stroke-width="0.55"/>
<text x="163.2" y="161.75" font-size="6.4" text-anchor="end" fill="#262626">4500</text>
<line x1="164.6" y1="176.5" x2="165.95" y2="176.5" stroke="#404040" stroke-width="0.55"/>
<line x1="265.15" y1="176.5" x2="263.8" y2="176.5" stroke="#404040" stroke-width="0.55"/>
<text x="163.2" y="178.65" font-size="6.4" text-anchor="end" fill="#262626">4000</text>
<line x1="164.6" y1="195.4" x2="165.95" y2="195.4" stroke="#404040" stroke-width="0.55"/>
<line x1="265.15" y1="195.4" x2="263.8" y2="195.4" stroke="#404040" stroke-width="0.55"/>
<text x="163.2" y="197.55" font-size="6.4" text-anchor="end" fill="#262626">3500</text>
<line x1="164.6" y1="212.51" x2="165.34" y2="212.51" stroke="#404040" stroke-width="0.4"/>
<line x1="265.15" y1="212.51" x2="264.41" y2="212.51" stroke="#404040" stroke-width="0.4"/>
<line x1="164.6" y1="208.02" x2="165.34" y2="208.02" stroke="#404040" stroke-width="0.4"/>
<line x1="265.15" y1="208.02" x2="264.41" y2="208.02" stroke="#404040" stroke-width="0.4"/>
<line x1="164.6" y1="203.66" x2="165.34" y2="203.66" stroke="#404040" stroke-width="0.4"/>
<line x1="265.15" y1="203.66" x2="264.41" y2="203.66" stroke="#404040" stroke-width="0.4"/>
<line x1="164.6" y1="199.44" x2="165.34" y2="199.44" stroke="#404040" stroke-width="0.4"/>
<line x1="265.15" y1="199.44" x2="264.41" y2="199.44" stroke="#404040" stroke-width="0.4"/>
<line x1="164.6" y1="191.34" x2="165.34" y2="191.34" stroke="#404040" stroke-width="0.4"/>
<line x1="265.15" y1="191.34" x2="264.41" y2="191.34" stroke="#404040" stroke-width="0.4"/>
<line x1="164.6" y1="187.46" x2="165.34" y2="187.46" stroke="#404040" stroke-width="0.4"/>
<line x1="265.15" y1="187.46" x2="264.41" y2="187.46" stroke="#404040" stroke-width="0.4"/>
<line x1="164.6" y1="183.69" x2="165.34" y2="183.69" stroke="#404040" stroke-width="0.4"/>
<line x1="265.15" y1="183.69" x2="264.41" y2="183.69" stroke="#404040" stroke-width="0.4"/>
<line x1="164.6" y1="180.01" x2="165.34" y2="180.01" stroke="#404040" stroke-width="0.4"/>
<line x1="265.15" y1="180.01" x2="264.41" y2="180.01" stroke="#404040" stroke-width="0.4"/>
<line x1="164.6" y1="172.93" x2="165.34" y2="172.93" stroke="#404040" stroke-width="0.4"/>
<line x1="265.15" y1="172.93" x2="264.41" y2="172.93" stroke="#404040" stroke-width="0.4"/>
<line x1="164.6" y1="169.52" x2="165.34" y2="169.52" stroke="#404040" stroke-width="0.4"/>
<line x1="265.15" y1="169.52" x2="264.41" y2="169.52" stroke="#404040" stroke-width="0.4"/>
<line x1="164.6" y1="166.19" x2="165.34" y2="166.19" stroke="#404040" stroke-width="0.4"/>
<line x1="265.15" y1="166.19" x2="264.41" y2="166.19" stroke="#404040" stroke-width="0.4"/>
<line x1="164.6" y1="162.94" x2="165.34" y2="162.94" stroke="#404040" stroke-width="0.4"/>
<line x1="265.15" y1="162.94" x2="264.41" y2="162.94" stroke="#404040" stroke-width="0.4"/>
<line x1="164.6" y1="156.64" x2="165.34" y2="156.64" stroke="#404040" stroke-width="0.4"/>
<line x1="265.15" y1="156.64" x2="264.41" y2="156.64" stroke="#404040" stroke-width="0.4"/>
<line x1="164.6" y1="153.6" x2="165.34" y2="153.6" stroke="#404040" stroke-width="0.4"/>
<line x1="265.15" y1="153.6" x2="264.41" y2="153.6" stroke="#404040" stroke-width="0.4"/>
<line x1="164.6" y1="150.62" x2="165.34" y2="150.62" stroke="#404040" stroke-width="0.4"/>
<line x1="265.15" y1="150.62" x2="264.41" y2="150.62" stroke="#404040" stroke-width="0.4"/>
<line x1="164.6" y1="147.7" x2="165.34" y2="147.7" stroke="#404040" stroke-width="0.4"/>
<line x1="265.15" y1="147.7" x2="264.41" y2="147.7" stroke="#404040" stroke-width="0.4"/>
<line x1="164.6" y1="142.04" x2="165.34" y2="142.04" stroke="#404040" stroke-width="0.4"/>
<line x1="265.15" y1="142.04" x2="264.41" y2="142.04" stroke="#404040" stroke-width="0.4"/>
<line x1="164.6" y1="139.29" x2="165.34" y2="139.29" stroke="#404040" stroke-width="0.4"/>
<line x1="265.15" y1="139.29" x2="264.41" y2="139.29" stroke="#404040" stroke-width="0.4"/>
<line x1="164.6" y1="136.59" x2="165.34" y2="136.59" stroke="#404040" stroke-width="0.4"/>
<line x1="265.15" y1="136.59" x2="264.41" y2="136.59" stroke="#404040" stroke-width="0.4"/>
<line x1="164.6" y1="133.94" x2="165.34" y2="133.94" stroke="#404040" stroke-width="0.4"/>
<line x1="265.15" y1="133.94" x2="264.41" y2="133.94" stroke="#404040" stroke-width="0.4"/>
<text x="214.88" y="128.05" font-size="7.15" text-anchor="middle" fill="#000" font-weight="bold">C17-F27</text>
<text x="214.88" y="240.3" font-size="7.15" text-anchor="middle" fill="#262626">algorithm</text>
<text x="147.6" y="171.48" font-size="7.15" text-anchor="middle" fill="#262626" transform="rotate(-90 147.6 171.48)">objective function</text>
</g>
<g>
<line x1="305.85" y1="208.1" x2="311.65" y2="208.1" stroke="#ff0000" stroke-width="0.85"/>
<line x1="308.75" y1="205.2" x2="308.75" y2="211" stroke="#ff0000" stroke-width="0.85"/>
<line x1="316.48" y1="155.6" x2="316.48" y2="153.6" stroke="#000" stroke-width="0.5" stroke-dasharray="1.5 0.9"/>
<line x1="315.28" y1="153.6" x2="317.67" y2="153.6" stroke="#000" stroke-width="0.7"/>
<line x1="316.48" y1="163.6" x2="316.48" y2="165.4" stroke="#000" stroke-width="0.5" stroke-dasharray="1.5 0.9"/>
<line x1="315.28" y1="165.4" x2="317.67" y2="165.4" stroke="#000" stroke-width="0.7"/>
<rect x="314.54" y="155.6" width="3.86" height="8" fill="none" stroke="#0000ff" stroke-width="0.67"/>
<line x1="314.54" y1="160" x2="318.41" y2="160" stroke="#ff0000" stroke-width="0.75"/>
<rect x="322.27" y="201.6" width="3.86" height="1.2" fill="none" stroke="#0000ff" stroke-width="0.67"/>
<line x1="322.27" y1="202.2" x2="326.13" y2="202.2" stroke="#ff0000" stroke-width="0.55"/>
<line x1="331.93" y1="135.4" x2="331.93" y2="133.6" stroke="#000" stroke-width="0.5" stroke-dasharray="1.5 0.9"/>
<line x1="330.73" y1="133.6" x2="333.12" y2="133.6" stroke="#000" stroke-width="0.7"/>
<line x1="331.93" y1="145.4" x2="331.93" y2="146.4" stroke="#000" stroke-width="0.5" stroke-dasharray="1.5 0.9"/>
<line x1="330.73" y1="146.4" x2="333.12" y2="146.4" stroke="#000" stroke-width="0.7"/>
<rect x="329.99" y="135.4" width="3.86" height="10" fill="none" stroke="#0000ff" stroke-width="0.67"/>
<line x1="329.99" y1="140" x2="333.86" y2="140" stroke="#ff0000" stroke-width="0.75"/>
<rect x="337.72" y="203.2" width="3.86" height="1" fill="none" stroke="#0000ff" stroke-width="0.67"/>
<line x1="337.72" y1="203.8" x2="341.58" y2="203.8" stroke="#ff0000" stroke-width="0.55"/>
<line x1="347.38" y1="164.4" x2="347.38" y2="160.6" stroke="#000" stroke-width="0.5" stroke-dasharray="1.5 0.9"/>
<line x1="346.18" y1="160.6" x2="348.57" y2="160.6" stroke="#000" stroke-width="0.7"/>
<line x1="347.38" y1="187.4" x2="347.38" y2="189.8" stroke="#000" stroke-width="0.5" stroke-dasharray="1.5 0.9"/>
<line x1="346.18" y1="189.8" x2="348.57" y2="189.8" stroke="#000" stroke-width="0.7"/>
<rect x="345.44" y="164.4" width="3.86" height="23" fill="none" stroke="#0000ff" stroke-width="0.67"/>
<line x1="345.44" y1="175.4" x2="349.31" y2="175.4" stroke="#ff0000" stroke-width="0.75"/>
<rect x="353.17" y="195" width="3.86" height="3" fill="none" stroke="#0000ff" stroke-width="0.67"/>
<line x1="353.17" y1="196" x2="357.03" y2="196" stroke="#ff0000" stroke-width="0.75"/>
<rect x="360.89" y="201.6" width="3.86" height="1.2" fill="none" stroke="#0000ff" stroke-width="0.67"/>
<line x1="360.89" y1="202.4" x2="364.76" y2="202.4" stroke="#ff0000" stroke-width="0.55"/>
<line x1="370.55" y1="185.4" x2="370.55" y2="182.4" stroke="#000" stroke-width="0.5" stroke-dasharray="1.5 0.9"/>
<line x1="369.35" y1="182.4" x2="371.75" y2="182.4" stroke="#000" stroke-width="0.7"/>
<rect x="368.62" y="185.4" width="3.86" height="12" fill="none" stroke="#0000ff" stroke-width="0.67"/>
<line x1="368.62" y1="196" x2="372.48" y2="196" stroke="#ff0000" stroke-width="0.75"/>
<line x1="369.95" y1="177.2" x2="371.15" y2="177.2" stroke="#000" stroke-width="0.8"/>
<line x1="369.95" y1="179.5" x2="371.15" y2="179.5" stroke="#000" stroke-width="0.8"/>
<line x1="378.27" y1="185" x2="378.27" y2="183" stroke="#000" stroke-width="0.5" stroke-dasharray="1.5 0.9"/>
<line x1="377.08" y1="183" x2="379.47" y2="183" stroke="#000" stroke-width="0.7"/>
<rect x="376.34" y="185" width="3.86" height="8.4" fill="none" stroke="#0000ff" stroke-width="0.67"/>
<line x1="376.34" y1="192.4" x2="380.21" y2="192.4" stroke="#ff0000" stroke-width="0.75"/>
<line x1="377.67" y1="179.7" x2="378.88" y2="179.7" stroke="#000" stroke-width="0.8"/>
<line x1="386" y1="192" x2="386" y2="189.4" stroke="#000" stroke-width="0.5" stroke-dasharray="1.5 0.9"/>
<line x1="384.8" y1="189.4" x2="387.2" y2="189.4" stroke="#000" stroke-width="0.7"/>
<rect x="384.07" y="192" width="3.86" height="3.6" fill="none" stroke="#0000ff" stroke-width="0.67"/>
<line x1="384.07" y1="195" x2="387.93" y2="195" stroke="#ff0000" stroke-width="0.75"/>
<line x1="393.72" y1="196" x2="393.72" y2="193.4" stroke="#000" stroke-width="0.5" stroke-dasharray="1.5 0.9"/>
<line x1="392.53" y1="193.4" x2="394.92" y2="193.4" stroke="#000" stroke-width="0.7"/>
<rect x="391.79" y="196" width="3.86" height="8.4" fill="none" stroke="#0000ff" stroke-width="0.67"/>
<line x1="391.79" y1="201.4" x2="395.66" y2="201.4" stroke="#ff0000" stroke-width="0.75"/>
<rect x="399.52" y="190" width="3.86" height="3" fill="none" stroke="#0000ff" stroke-width="0.67"/>
<line x1="399.52" y1="191.6" x2="403.38" y2="191.6" stroke="#ff0000" stroke-width="0.75"/>
<rect x="305.2" y="129.55" width="100.3" height="83.85" fill="none" stroke="#404040" stroke-width="0.76"/>
<line x1="308.75" y1="213.4" x2="308.75" y2="212.05" stroke="#404040" stroke-width="0.55"/>
<line x1="308.75" y1="129.55" x2="308.75" y2="130.9" stroke="#404040" stroke-width="0.55"/>
<text x="310.9" y="214.65" font-size="6.4" text-anchor="end" fill="#262626" transform="rotate(-90 310.9 214.65)">LOA</text>
<line x1="316.48" y1="213.4" x2="316.48" y2="212.05" stroke="#404040" stroke-width="0.55"/>
<line x1="316.48" y1="129.55" x2="316.48" y2="130.9" stroke="#404040" stroke-width="0.55"/>
<text x="318.62" y="214.65" font-size="6.4" text-anchor="end" fill="#262626" transform="rotate(-90 318.62 214.65)">WSO</text>
<line x1="324.2" y1="213.4" x2="324.2" y2="212.05" stroke="#404040" stroke-width="0.55"/>
<line x1="324.2" y1="129.55" x2="324.2" y2="130.9" stroke="#404040" stroke-width="0.55"/>
<text x="326.35" y="214.65" font-size="6.4" text-anchor="end" fill="#262626" transform="rotate(-90 326.35 214.65)">AVOA</text>
<line x1="331.93" y1="213.4" x2="331.93" y2="212.05" stroke="#404040" stroke-width="0.55"/>
<line x1="331.93" y1="129.55" x2="331.93" y2="130.9" stroke="#404040" stroke-width="0.55"/>
<text x="334.07" y="214.65" font-size="6.4" text-anchor="end" fill="#262626" transform="rotate(-90 334.07 214.65)">RSA</text>
<line x1="339.65" y1="213.4" x2="339.65" y2="212.05" stroke="#404040" stroke-width="0.55"/>
<line x1="339.65" y1="129.55" x2="339.65" y2="130.9" stroke="#404040" stroke-width="0.55"/>
<text x="341.8" y="214.65" font-size="6.4" text-anchor="end" fill="#262626" transform="rotate(-90 341.8 214.65)">MPA</text>
<line x1="347.38" y1="213.4" x2="347.38" y2="212.05" stroke="#404040" stroke-width="0.55"/>
<line x1="347.38" y1="129.55" x2="347.38" y2="130.9" stroke="#404040" stroke-width="0.55"/>
<text x="349.52" y="214.65" font-size="6.4" text-anchor="end" fill="#262626" transform="rotate(-90 349.52 214.65)">TSA</text>
<line x1="355.1" y1="213.4" x2="355.1" y2="212.05" stroke="#404040" stroke-width="0.55"/>
<line x1="355.1" y1="129.55" x2="355.1" y2="130.9" stroke="#404040" stroke-width="0.55"/>
<text x="357.25" y="214.65" font-size="6.4" text-anchor="end" fill="#262626" transform="rotate(-90 357.25 214.65)">WOA</text>
<line x1="362.82" y1="213.4" x2="362.82" y2="212.05" stroke="#404040" stroke-width="0.55"/>
<line x1="362.82" y1="129.55" x2="362.82" y2="130.9" stroke="#404040" stroke-width="0.55"/>
<text x="364.97" y="214.65" font-size="6.4" text-anchor="end" fill="#262626" transform="rotate(-90 364.97 214.65)">MVO</text>
<line x1="370.55" y1="213.4" x2="370.55" y2="212.05" stroke="#404040" stroke-width="0.55"/>
<line x1="370.55" y1="129.55" x2="370.55" y2="130.9" stroke="#404040" stroke-width="0.55"/>
<text x="372.7" y="214.65" font-size="6.4" text-anchor="end" fill="#262626" transform="rotate(-90 372.7 214.65)">GWO</text>
<line x1="378.27" y1="213.4" x2="378.27" y2="212.05" stroke="#404040" stroke-width="0.55"/>
<line x1="378.27" y1="129.55" x2="378.27" y2="130.9" stroke="#404040" stroke-width="0.55"/>
<text x="380.42" y="214.65" font-size="6.4" text-anchor="end" fill="#262626" transform="rotate(-90 380.42 214.65)">TLBO</text>
<line x1="386" y1="213.4" x2="386" y2="212.05" stroke="#404040" stroke-width="0.55"/>
<line x1="386" y1="129.55" x2="386" y2="130.9" stroke="#404040" stroke-width="0.55"/>
<text x="388.15" y="214.65" font-size="6.4" text-anchor="end" fill="#262626" transform="rotate(-90 388.15 214.65)">GSA</text>
<line x1="393.72" y1="213.4" x2="393.72" y2="212.05" stroke="#404040" stroke-width="0.55"/>
<line x1="393.72" y1="129.55" x2="393.72" y2="130.9" stroke="#404040" stroke-width="0.55"/>
<text x="395.87" y="214.65" font-size="6.4" text-anchor="end" fill="#262626" transform="rotate(-90 395.87 214.65)">PSO</text>
<line x1="401.45" y1="213.4" x2="401.45" y2="212.05" stroke="#404040" stroke-width="0.55"/>
<line x1="401.45" y1="129.55" x2="401.45" y2="130.9" stroke="#404040" stroke-width="0.55"/>
<text x="403.6" y="214.65" font-size="6.4" text-anchor="end" fill="#262626" transform="rotate(-90 403.6 214.65)">GA</text>
<line x1="305.2" y1="132" x2="306.55" y2="132" stroke="#404040" stroke-width="0.55"/>
<line x1="405.5" y1="132" x2="404.15" y2="132" stroke="#404040" stroke-width="0.55"/>
<text x="303.8" y="134.15" font-size="6.4" text-anchor="end" fill="#262626">6000</text>
<line x1="305.2" y1="142" x2="306.55" y2="142" stroke="#404040" stroke-width="0.55"/>
<line x1="405.5" y1="142" x2="404.15" y2="142" stroke="#404040" stroke-width="0.55"/>
<text x="303.8" y="144.15" font-size="6.4" text-anchor="end" fill="#262626">5500</text>
<line x1="305.2" y1="152.9" x2="306.55" y2="152.9" stroke="#404040" stroke-width="0.55"/>
<line x1="405.5" y1="152.9" x2="404.15" y2="152.9" stroke="#404040" stroke-width="0.55"/>
<text x="303.8" y="155.05" font-size="6.4" text-anchor="end" fill="#262626">5000</text>
<line x1="305.2" y1="164.9" x2="306.55" y2="164.9" stroke="#404040" stroke-width="0.55"/>
<line x1="405.5" y1="164.9" x2="404.15" y2="164.9" stroke="#404040" stroke-width="0.55"/>
<text x="303.8" y="167.05" font-size="6.4" text-anchor="end" fill="#262626">4500</text>
<line x1="305.2" y1="178.4" x2="306.55" y2="178.4" stroke="#404040" stroke-width="0.55"/>
<line x1="405.5" y1="178.4" x2="404.15" y2="178.4" stroke="#404040" stroke-width="0.55"/>
<text x="303.8" y="180.55" font-size="6.4" text-anchor="end" fill="#262626">4000</text>
<line x1="305.2" y1="193.7" x2="306.55" y2="193.7" stroke="#404040" stroke-width="0.55"/>
<line x1="405.5" y1="193.7" x2="404.15" y2="193.7" stroke="#404040" stroke-width="0.55"/>
<text x="303.8" y="195.85" font-size="6.4" text-anchor="end" fill="#262626">3500</text>
<line x1="305.2" y1="211.6" x2="306.55" y2="211.6" stroke="#404040" stroke-width="0.55"/>
<line x1="405.5" y1="211.6" x2="404.15" y2="211.6" stroke="#404040" stroke-width="0.55"/>
<text x="303.8" y="213.75" font-size="6.4" text-anchor="end" fill="#262626">3000</text>
<line x1="305.2" y1="207.71" x2="305.94" y2="207.71" stroke="#404040" stroke-width="0.4"/>
<line x1="405.5" y1="207.71" x2="404.76" y2="207.71" stroke="#404040" stroke-width="0.4"/>
<line x1="305.2" y1="204.07" x2="305.94" y2="204.07" stroke="#404040" stroke-width="0.4"/>
<line x1="405.5" y1="204.07" x2="404.76" y2="204.07" stroke="#404040" stroke-width="0.4"/>
<line x1="305.2" y1="200.54" x2="305.94" y2="200.54" stroke="#404040" stroke-width="0.4"/>
<line x1="405.5" y1="200.54" x2="404.76" y2="200.54" stroke="#404040" stroke-width="0.4"/>
<line x1="305.2" y1="197.11" x2="305.94" y2="197.11" stroke="#404040" stroke-width="0.4"/>
<line x1="405.5" y1="197.11" x2="404.76" y2="197.11" stroke="#404040" stroke-width="0.4"/>
<line x1="305.2" y1="190.56" x2="305.94" y2="190.56" stroke="#404040" stroke-width="0.4"/>
<line x1="405.5" y1="190.56" x2="404.76" y2="190.56" stroke="#404040" stroke-width="0.4"/>
<line x1="305.2" y1="187.42" x2="305.94" y2="187.42" stroke="#404040" stroke-width="0.4"/>
<line x1="405.5" y1="187.42" x2="404.76" y2="187.42" stroke="#404040" stroke-width="0.4"/>
<line x1="305.2" y1="184.36" x2="305.94" y2="184.36" stroke="#404040" stroke-width="0.4"/>
<line x1="405.5" y1="184.36" x2="404.76" y2="184.36" stroke="#404040" stroke-width="0.4"/>
<line x1="305.2" y1="181.38" x2="305.94" y2="181.38" stroke="#404040" stroke-width="0.4"/>
<line x1="405.5" y1="181.38" x2="404.76" y2="181.38" stroke="#404040" stroke-width="0.4"/>
<line x1="305.2" y1="175.64" x2="305.94" y2="175.64" stroke="#404040" stroke-width="0.4"/>
<line x1="405.5" y1="175.64" x2="404.76" y2="175.64" stroke="#404040" stroke-width="0.4"/>
<line x1="305.2" y1="172.88" x2="305.94" y2="172.88" stroke="#404040" stroke-width="0.4"/>
<line x1="405.5" y1="172.88" x2="404.76" y2="172.88" stroke="#404040" stroke-width="0.4"/>
<line x1="305.2" y1="170.18" x2="305.94" y2="170.18" stroke="#404040" stroke-width="0.4"/>
<line x1="405.5" y1="170.18" x2="404.76" y2="170.18" stroke="#404040" stroke-width="0.4"/>
<line x1="305.2" y1="167.54" x2="305.94" y2="167.54" stroke="#404040" stroke-width="0.4"/>
<line x1="405.5" y1="167.54" x2="404.76" y2="167.54" stroke="#404040" stroke-width="0.4"/>
<line x1="305.2" y1="162.44" x2="305.94" y2="162.44" stroke="#404040" stroke-width="0.4"/>
<line x1="405.5" y1="162.44" x2="404.76" y2="162.44" stroke="#404040" stroke-width="0.4"/>
<line x1="305.2" y1="159.98" x2="305.94" y2="159.98" stroke="#404040" stroke-width="0.4"/>
<line x1="405.5" y1="159.98" x2="404.76" y2="159.98" stroke="#404040" stroke-width="0.4"/>
<line x1="305.2" y1="157.56" x2="305.94" y2="157.56" stroke="#404040" stroke-width="0.4"/>
<line x1="405.5" y1="157.56" x2="404.76" y2="157.56" stroke="#404040" stroke-width="0.4"/>
<line x1="305.2" y1="155.2" x2="305.94" y2="155.2" stroke="#404040" stroke-width="0.4"/>
<line x1="405.5" y1="155.2" x2="404.76" y2="155.2" stroke="#404040" stroke-width="0.4"/>
<line x1="305.2" y1="150.61" x2="305.94" y2="150.61" stroke="#404040" stroke-width="0.4"/>
<line x1="405.5" y1="150.61" x2="404.76" y2="150.61" stroke="#404040" stroke-width="0.4"/>
<line x1="305.2" y1="148.38" x2="305.94" y2="148.38" stroke="#404040" stroke-width="0.4"/>
<line x1="405.5" y1="148.38" x2="404.76" y2="148.38" stroke="#404040" stroke-width="0.4"/>
<line x1="305.2" y1="146.2" x2="305.94" y2="146.2" stroke="#404040" stroke-width="0.4"/>
<line x1="405.5" y1="146.2" x2="404.76" y2="146.2" stroke="#404040" stroke-width="0.4"/>
<line x1="305.2" y1="144.05" x2="305.94" y2="144.05" stroke="#404040" stroke-width="0.4"/>
<line x1="405.5" y1="144.05" x2="404.76" y2="144.05" stroke="#404040" stroke-width="0.4"/>
<line x1="305.2" y1="139.88" x2="305.94" y2="139.88" stroke="#404040" stroke-width="0.4"/>
<line x1="405.5" y1="139.88" x2="404.76" y2="139.88" stroke="#404040" stroke-width="0.4"/>
<line x1="305.2" y1="137.85" x2="305.94" y2="137.85" stroke="#404040" stroke-width="0.4"/>
<line x1="405.5" y1="137.85" x2="404.76" y2="137.85" stroke="#404040" stroke-width="0.4"/>
<line x1="305.2" y1="135.86" x2="305.94" y2="135.86" stroke="#404040" stroke-width="0.4"/>
<line x1="405.5" y1="135.86" x2="404.76" y2="135.86" stroke="#404040" stroke-width="0.4"/>
<line x1="305.2" y1="133.9" x2="305.94" y2="133.9" stroke="#404040" stroke-width="0.4"/>
<line x1="405.5" y1="133.9" x2="404.76" y2="133.9" stroke="#404040" stroke-width="0.4"/>
<text x="355.35" y="128.05" font-size="7.15" text-anchor="middle" fill="#000" font-weight="bold">C17-F28</text>
<text x="355.35" y="240.3" font-size="7.15" text-anchor="middle" fill="#262626">algorithm</text>
<text x="287.6" y="171.48" font-size="7.15" text-anchor="middle" fill="#262626" transform="rotate(-90 287.6 171.48)">objective function</text>
</g>
<g>
<rect x="447.46" y="206.6" width="3.88" height="0.8" fill="none" stroke="#0000ff" stroke-width="0.67"/>
<line x1="447.46" y1="207" x2="451.34" y2="207" stroke="#ff0000" stroke-width="0.55"/>
<line x1="457.15" y1="145.6" x2="457.15" y2="143.4" stroke="#000" stroke-width="0.5" stroke-dasharray="1.5 0.9"/>
<line x1="455.95" y1="143.4" x2="458.35" y2="143.4" stroke="#000" stroke-width="0.7"/>
<line x1="457.15" y1="161.4" x2="457.15" y2="163" stroke="#000" stroke-width="0.5" stroke-dasharray="1.5 0.9"/>
<line x1="455.95" y1="163" x2="458.35" y2="163" stroke="#000" stroke-width="0.7"/>
<rect x="455.21" y="145.6" width="3.88" height="15.8" fill="none" stroke="#0000ff" stroke-width="0.67"/>
<line x1="455.21" y1="153.4" x2="459.09" y2="153.4" stroke="#ff0000" stroke-width="0.75"/>
<line x1="464.9" y1="183" x2="464.9" y2="187.4" stroke="#000" stroke-width="0.5" stroke-dasharray="1.5 0.9"/>
<line x1="463.7" y1="187.4" x2="466.1" y2="187.4" stroke="#000" stroke-width="0.7"/>
<rect x="462.96" y="173.4" width="3.88" height="9.6" fill="none" stroke="#0000ff" stroke-width="0.67"/>
<line x1="462.96" y1="176.4" x2="466.84" y2="176.4" stroke="#ff0000" stroke-width="0.75"/>
<line x1="472.65" y1="137" x2="472.65" y2="132.4" stroke="#000" stroke-width="0.5" stroke-dasharray="1.5 0.9"/>
<line x1="471.45" y1="132.4" x2="473.85" y2="132.4" stroke="#000" stroke-width="0.7"/>
<rect x="470.71" y="137" width="3.88" height="25" fill="none" stroke="#0000ff" stroke-width="0.67"/>
<line x1="470.71" y1="151" x2="474.59" y2="151" stroke="#ff0000" stroke-width="0.75"/>
<line x1="480.4" y1="194.4" x2="480.4" y2="193" stroke="#000" stroke-width="0.5" stroke-dasharray="1.5 0.9"/>
<line x1="479.2" y1="193" x2="481.6" y2="193" stroke="#000" stroke-width="0.7"/>
<line x1="480.4" y1="200.6" x2="480.4" y2="202" stroke="#000" stroke-width="0.5" stroke-dasharray="1.5 0.9"/>
<line x1="479.2" y1="202" x2="481.6" y2="202" stroke="#000" stroke-width="0.7"/>
<rect x="478.46" y="194.4" width="3.88" height="6.2" fill="none" stroke="#0000ff" stroke-width="0.67"/>
<line x1="478.46" y1="197" x2="482.34" y2="197" stroke="#ff0000" stroke-width="0.75"/>
<rect x="486.21" y="146" width="3.88" height="22.6" fill="none" stroke="#0000ff" stroke-width="0.67"/>
<line x1="486.21" y1="160.4" x2="490.09" y2="160.4" stroke="#ff0000" stroke-width="0.75"/>
<line x1="487.55" y1="139" x2="488.75" y2="139" stroke="#000" stroke-width="0.8"/>
<line x1="487.55" y1="140.6" x2="488.75" y2="140.6" stroke="#000" stroke-width="0.8"/>
<line x1="495.9" y1="157.4" x2="495.9" y2="156.4" stroke="#000" stroke-width="0.5" stroke-dasharray="1.5 0.9"/>
<line x1="494.7" y1="156.4" x2="497.1" y2="156.4" stroke="#000" stroke-width="0.7"/>
<line x1="495.9" y1="163" x2="495.9" y2="165.6" stroke="#000" stroke-width="0.5" stroke-dasharray="1.5 0.9"/>
<line x1="494.7" y1="165.6" x2="497.1" y2="165.6" stroke="#000" stroke-width="0.7"/>
<rect x="493.96" y="157.4" width="3.88" height="5.6" fill="none" stroke="#0000ff" stroke-width="0.67"/>
<line x1="493.96" y1="159.4" x2="497.84" y2="159.4" stroke="#ff0000" stroke-width="0.75"/>
<line x1="503.65" y1="189" x2="503.65" y2="188" stroke="#000" stroke-width="0.5" stroke-dasharray="1.5 0.9"/>
<line x1="502.45" y1="188" x2="504.85" y2="188" stroke="#000" stroke-width="0.7"/>
<line x1="503.65" y1="194.4" x2="503.65" y2="195.6" stroke="#000" stroke-width="0.5" stroke-dasharray="1.5 0.9"/>
<line x1="502.45" y1="195.6" x2="504.85" y2="195.6" stroke="#000" stroke-width="0.7"/>
<rect x="501.71" y="189" width="3.88" height="5.4" fill="none" stroke="#0000ff" stroke-width="0.67"/>
<line x1="501.71" y1="191" x2="505.59" y2="191" stroke="#ff0000" stroke-width="0.75"/>
<line x1="511.4" y1="191.4" x2="511.4" y2="189.4" stroke="#000" stroke-width="0.5" stroke-dasharray="1.5 0.9"/>
<line x1="510.2" y1="189.4" x2="512.6" y2="189.4" stroke="#000" stroke-width="0.7"/>
<rect x="509.46" y="191.4" width="3.88" height="4" fill="none" stroke="#0000ff" stroke-width="0.67"/>
<line x1="509.46" y1="193.4" x2="513.34" y2="193.4" stroke="#ff0000" stroke-width="0.75"/>
<line x1="519.15" y1="167.6" x2="519.15" y2="162.4" stroke="#000" stroke-width="0.5" stroke-dasharray="1.5 0.9"/>
<line x1="517.95" y1="162.4" x2="520.35" y2="162.4" stroke="#000" stroke-width="0.7"/>
<line x1="519.15" y1="179.5" x2="519.15" y2="182" stroke="#000" stroke-width="0.5" stroke-dasharray="1.5 0.9"/>
<line x1="517.95" y1="182" x2="520.35" y2="182" stroke="#000" stroke-width="0.7"/>
<rect x="517.21" y="167.6" width="3.88" height="11.9" fill="none" stroke="#0000ff" stroke-width="0.67"/>
<line x1="517.21" y1="175.4" x2="521.09" y2="175.4" stroke="#ff0000" stroke-width="0.75"/>
<rect x="524.96" y="155" width="3.88" height="11.6" fill="none" stroke="#0000ff" stroke-width="0.67"/>
<line x1="524.96" y1="160.4" x2="528.84" y2="160.4" stroke="#ff0000" stroke-width="0.75"/>
<line x1="534.65" y1="179.5" x2="534.65" y2="176" stroke="#000" stroke-width="0.5" stroke-dasharray="1.5 0.9"/>
<line x1="533.45" y1="176" x2="535.85" y2="176" stroke="#000" stroke-width="0.7"/>
<line x1="534.65" y1="185.5" x2="534.65" y2="188" stroke="#000" stroke-width="0.5" stroke-dasharray="1.5 0.9"/>
<line x1="533.45" y1="188" x2="535.85" y2="188" stroke="#000" stroke-width="0.7"/>
<rect x="532.71" y="179.5" width="3.88" height="6" fill="none" stroke="#0000ff" stroke-width="0.67"/>
<line x1="532.71" y1="183" x2="536.59" y2="183" stroke="#ff0000" stroke-width="0.75"/>
<line x1="542.4" y1="172.4" x2="542.4" y2="170.4" stroke="#000" stroke-width="0.5" stroke-dasharray="1.5 0.9"/>
<line x1="541.2" y1="170.4" x2="543.6" y2="170.4" stroke="#000" stroke-width="0.7"/>
<line x1="542.4" y1="186.6" x2="542.4" y2="190" stroke="#000" stroke-width="0.5" stroke-dasharray="1.5 0.9"/>
<line x1="541.2" y1="190" x2="543.6" y2="190" stroke="#000" stroke-width="0.7"/>
<rect x="540.46" y="172.4" width="3.88" height="14.2" fill="none" stroke="#0000ff" stroke-width="0.67"/>
<line x1="540.46" y1="179" x2="544.34" y2="179" stroke="#ff0000" stroke-width="0.75"/>
<rect x="445.45" y="129.55" width="100.5" height="83.85" fill="none" stroke="#404040" stroke-width="0.76"/>
<line x1="449.4" y1="213.4" x2="449.4" y2="212.05" stroke="#404040" stroke-width="0.55"/>
<line x1="449.4" y1="129.55" x2="449.4" y2="130.9" stroke="#404040" stroke-width="0.55"/>
<text x="451.55" y="214.65" font-size="6.4" text-anchor="end" fill="#262626" transform="rotate(-90 451.55 214.65)">LOA</text>
<line x1="457.15" y1="213.4" x2="457.15" y2="212.05" stroke="#404040" stroke-width="0.55"/>
<line x1="457.15" y1="129.55" x2="457.15" y2="130.9" stroke="#404040" stroke-width="0.55"/>
<text x="459.3" y="214.65" font-size="6.4" text-anchor="end" fill="#262626" transform="rotate(-90 459.3 214.65)">WSO</text>
<line x1="464.9" y1="213.4" x2="464.9" y2="212.05" stroke="#404040" stroke-width="0.55"/>
<line x1="464.9" y1="129.55" x2="464.9" y2="130.9" stroke="#404040" stroke-width="0.55"/>
<text x="467.05" y="214.65" font-size="6.4" text-anchor="end" fill="#262626" transform="rotate(-90 467.05 214.65)">AVOA</text>
<line x1="472.65" y1="213.4" x2="472.65" y2="212.05" stroke="#404040" stroke-width="0.55"/>
<line x1="472.65" y1="129.55" x2="472.65" y2="130.9" stroke="#404040" stroke-width="0.55"/>
<text x="474.8" y="214.65" font-size="6.4" text-anchor="end" fill="#262626" transform="rotate(-90 474.8 214.65)">RSA</text>
<line x1="480.4" y1="213.4" x2="480.4" y2="212.05" stroke="#404040" stroke-width="0.55"/>
<line x1="480.4" y1="129.55" x2="480.4" y2="130.9" stroke="#404040" stroke-width="0.55"/>
<text x="482.55" y="214.65" font-size="6.4" text-anchor="end" fill="#262626" transform="rotate(-90 482.55 214.65)">MPA</text>
<line x1="488.15" y1="213.4" x2="488.15" y2="212.05" stroke="#404040" stroke-width="0.55"/>
<line x1="488.15" y1="129.55" x2="488.15" y2="130.9" stroke="#404040" stroke-width="0.55"/>
<text x="490.3" y="214.65" font-size="6.4" text-anchor="end" fill="#262626" transform="rotate(-90 490.3 214.65)">TSA</text>
<line x1="495.9" y1="213.4" x2="495.9" y2="212.05" stroke="#404040" stroke-width="0.55"/>
<line x1="495.9" y1="129.55" x2="495.9" y2="130.9" stroke="#404040" stroke-width="0.55"/>
<text x="498.05" y="214.65" font-size="6.4" text-anchor="end" fill="#262626" transform="rotate(-90 498.05 214.65)">WOA</text>
<line x1="503.65" y1="213.4" x2="503.65" y2="212.05" stroke="#404040" stroke-width="0.55"/>
<line x1="503.65" y1="129.55" x2="503.65" y2="130.9" stroke="#404040" stroke-width="0.55"/>
<text x="505.8" y="214.65" font-size="6.4" text-anchor="end" fill="#262626" transform="rotate(-90 505.8 214.65)">MVO</text>
<line x1="511.4" y1="213.4" x2="511.4" y2="212.05" stroke="#404040" stroke-width="0.55"/>
<line x1="511.4" y1="129.55" x2="511.4" y2="130.9" stroke="#404040" stroke-width="0.55"/>
<text x="513.55" y="214.65" font-size="6.4" text-anchor="end" fill="#262626" transform="rotate(-90 513.55 214.65)">GWO</text>
<line x1="519.15" y1="213.4" x2="519.15" y2="212.05" stroke="#404040" stroke-width="0.55"/>
<line x1="519.15" y1="129.55" x2="519.15" y2="130.9" stroke="#404040" stroke-width="0.55"/>
<text x="521.3" y="214.65" font-size="6.4" text-anchor="end" fill="#262626" transform="rotate(-90 521.3 214.65)">TLBO</text>
<line x1="526.9" y1="213.4" x2="526.9" y2="212.05" stroke="#404040" stroke-width="0.55"/>
<line x1="526.9" y1="129.55" x2="526.9" y2="130.9" stroke="#404040" stroke-width="0.55"/>
<text x="529.05" y="214.65" font-size="6.4" text-anchor="end" fill="#262626" transform="rotate(-90 529.05 214.65)">GSA</text>
<line x1="534.65" y1="213.4" x2="534.65" y2="212.05" stroke="#404040" stroke-width="0.55"/>
<line x1="534.65" y1="129.55" x2="534.65" y2="130.9" stroke="#404040" stroke-width="0.55"/>
<text x="536.8" y="214.65" font-size="6.4" text-anchor="end" fill="#262626" transform="rotate(-90 536.8 214.65)">PSO</text>
<line x1="542.4" y1="213.4" x2="542.4" y2="212.05" stroke="#404040" stroke-width="0.55"/>
<line x1="542.4" y1="129.55" x2="542.4" y2="130.9" stroke="#404040" stroke-width="0.55"/>
<text x="544.55" y="214.65" font-size="6.4" text-anchor="end" fill="#262626" transform="rotate(-90 544.55 214.65)">GA</text>
<line x1="445.45" y1="130.4" x2="446.8" y2="130.4" stroke="#404040" stroke-width="0.55"/>
<line x1="545.95" y1="130.4" x2="544.6" y2="130.4" stroke="#404040" stroke-width="0.55"/>
<text x="444.05" y="132.55" font-size="6.4" text-anchor="end" fill="#262626">6500</text>
<line x1="445.45" y1="139.4" x2="446.8" y2="139.4" stroke="#404040" stroke-width="0.55"/>
<line x1="545.95" y1="139.4" x2="544.6" y2="139.4" stroke="#404040" stroke-width="0.55"/>
<text x="444.05" y="141.55" font-size="6.4" text-anchor="end" fill="#262626">6000</text>
<line x1="445.45" y1="149.4" x2="446.8" y2="149.4" stroke="#404040" stroke-width="0.55"/>
<line x1="545.95" y1="149.4" x2="544.6" y2="149.4" stroke="#404040" stroke-width="0.55"/>
<text x="444.05" y="151.55" font-size="6.4" text-anchor="end" fill="#262626">5500</text>
<line x1="445.45" y1="160.4" x2="446.8" y2="160.4" stroke="#404040" stroke-width="0.55"/>
<line x1="545.95" y1="160.4" x2="544.6" y2="160.4" stroke="#404040" stroke-width="0.55"/>
<text x="444.05" y="162.55" font-size="6.4" text-anchor="end" fill="#262626">5000</text>
<line x1="445.45" y1="173" x2="446.8" y2="173" stroke="#404040" stroke-width="0.55"/>
<line x1="545.95" y1="173" x2="544.6" y2="173" stroke="#404040" stroke-width="0.55"/>
<text x="444.05" y="175.15" font-size="6.4" text-anchor="end" fill="#262626">4500</text>
<line x1="445.45" y1="186.6" x2="446.8" y2="186.6" stroke="#404040" stroke-width="0.55"/>
<line x1="545.95" y1="186.6" x2="544.6" y2="186.6" stroke="#404040" stroke-width="0.55"/>
<text x="444.05" y="188.75" font-size="6.4" text-anchor="end" fill="#262626">4000</text>
<line x1="445.45" y1="202" x2="446.8" y2="202" stroke="#404040" stroke-width="0.55"/>
<line x1="545.95" y1="202" x2="544.6" y2="202" stroke="#404040" stroke-width="0.55"/>
<text x="444.05" y="204.15" font-size="6.4" text-anchor="end" fill="#262626">3500</text>
<line x1="445.45" y1="212.41" x2="446.19" y2="212.41" stroke="#404040" stroke-width="0.4"/>
<line x1="545.95" y1="212.41" x2="545.21" y2="212.41" stroke="#404040" stroke-width="0.4"/>
<line x1="445.45" y1="208.84" x2="446.19" y2="208.84" stroke="#404040" stroke-width="0.4"/>
<line x1="545.95" y1="208.84" x2="545.21" y2="208.84" stroke="#404040" stroke-width="0.4"/>
<line x1="445.45" y1="205.37" x2="446.19" y2="205.37" stroke="#404040" stroke-width="0.4"/>
<line x1="545.95" y1="205.37" x2="545.21" y2="205.37" stroke="#404040" stroke-width="0.4"/>
<line x1="445.45" y1="198.74" x2="446.19" y2="198.74" stroke="#404040" stroke-width="0.4"/>
<line x1="545.95" y1="198.74" x2="545.21" y2="198.74" stroke="#404040" stroke-width="0.4"/>
<line x1="445.45" y1="195.56" x2="446.19" y2="195.56" stroke="#404040" stroke-width="0.4"/>
<line x1="545.95" y1="195.56" x2="545.21" y2="195.56" stroke="#404040" stroke-width="0.4"/>
<line x1="445.45" y1="192.47" x2="446.19" y2="192.47" stroke="#404040" stroke-width="0.4"/>
<line x1="545.95" y1="192.47" x2="545.21" y2="192.47" stroke="#404040" stroke-width="0.4"/>
<line x1="445.45" y1="189.45" x2="446.19" y2="189.45" stroke="#404040" stroke-width="0.4"/>
<line x1="545.95" y1="189.45" x2="545.21" y2="189.45" stroke="#404040" stroke-width="0.4"/>
<line x1="445.45" y1="183.65" x2="446.19" y2="183.65" stroke="#404040" stroke-width="0.4"/>
<line x1="545.95" y1="183.65" x2="545.21" y2="183.65" stroke="#404040" stroke-width="0.4"/>
<line x1="445.45" y1="180.85" x2="446.19" y2="180.85" stroke="#404040" stroke-width="0.4"/>
<line x1="545.95" y1="180.85" x2="545.21" y2="180.85" stroke="#404040" stroke-width="0.4"/>
<line x1="445.45" y1="178.12" x2="446.19" y2="178.12" stroke="#404040" stroke-width="0.4"/>
<line x1="545.95" y1="178.12" x2="545.21" y2="178.12" stroke="#404040" stroke-width="0.4"/>
<line x1="445.45" y1="175.46" x2="446.19" y2="175.46" stroke="#404040" stroke-width="0.4"/>
<line x1="545.95" y1="175.46" x2="545.21" y2="175.46" stroke="#404040" stroke-width="0.4"/>
<line x1="445.45" y1="170.3" x2="446.19" y2="170.3" stroke="#404040" stroke-width="0.4"/>
<line x1="545.95" y1="170.3" x2="545.21" y2="170.3" stroke="#404040" stroke-width="0.4"/>
<line x1="445.45" y1="167.8" x2="446.19" y2="167.8" stroke="#404040" stroke-width="0.4"/>
<line x1="545.95" y1="167.8" x2="545.21" y2="167.8" stroke="#404040" stroke-width="0.4"/>
<line x1="445.45" y1="165.36" x2="446.19" y2="165.36" stroke="#404040" stroke-width="0.4"/>
<line x1="545.95" y1="165.36" x2="545.21" y2="165.36" stroke="#404040" stroke-width="0.4"/>
<line x1="445.45" y1="162.97" x2="446.19" y2="162.97" stroke="#404040" stroke-width="0.4"/>
<line x1="545.95" y1="162.97" x2="545.21" y2="162.97" stroke="#404040" stroke-width="0.4"/>
<line x1="445.45" y1="158.32" x2="446.19" y2="158.32" stroke="#404040" stroke-width="0.4"/>
<line x1="545.95" y1="158.32" x2="545.21" y2="158.32" stroke="#404040" stroke-width="0.4"/>
<line x1="445.45" y1="156.07" x2="446.19" y2="156.07" stroke="#404040" stroke-width="0.4"/>
<line x1="545.95" y1="156.07" x2="545.21" y2="156.07" stroke="#404040" stroke-width="0.4"/>
<line x1="445.45" y1="153.86" x2="446.19" y2="153.86" stroke="#404040" stroke-width="0.4"/>
<line x1="545.95" y1="153.86" x2="545.21" y2="153.86" stroke="#404040" stroke-width="0.4"/>
<line x1="445.45" y1="151.69" x2="446.19" y2="151.69" stroke="#404040" stroke-width="0.4"/>
<line x1="545.95" y1="151.69" x2="545.21" y2="151.69" stroke="#404040" stroke-width="0.4"/>
<line x1="445.45" y1="147.47" x2="446.19" y2="147.47" stroke="#404040" stroke-width="0.4"/>
<line x1="545.95" y1="147.47" x2="545.21" y2="147.47" stroke="#404040" stroke-width="0.4"/>
<line x1="445.45" y1="145.42" x2="446.19" y2="145.42" stroke="#404040" stroke-width="0.4"/>
<line x1="545.95" y1="145.42" x2="545.21" y2="145.42" stroke="#404040" stroke-width="0.4"/>
<line x1="445.45" y1="143.4" x2="446.19" y2="143.4" stroke="#404040" stroke-width="0.4"/>
<line x1="545.95" y1="143.4" x2="545.21" y2="143.4" stroke="#404040" stroke-width="0.4"/>
<line x1="445.45" y1="141.42" x2="446.19" y2="141.42" stroke="#404040" stroke-width="0.4"/>
<line x1="545.95" y1="141.42" x2="545.21" y2="141.42" stroke="#404040" stroke-width="0.4"/>
<line x1="445.45" y1="137.55" x2="446.19" y2="137.55" stroke="#404040" stroke-width="0.4"/>
<line x1="545.95" y1="137.55" x2="545.21" y2="137.55" stroke="#404040" stroke-width="0.4"/>
<line x1="445.45" y1="135.66" x2="446.19" y2="135.66" stroke="#404040" stroke-width="0.4"/>
<line x1="545.95" y1="135.66" x2="545.21" y2="135.66" stroke="#404040" stroke-width="0.4"/>
<line x1="445.45" y1="133.8" x2="446.19" y2="133.8" stroke="#404040" stroke-width="0.4"/>
<line x1="545.95" y1="133.8" x2="545.21" y2="133.8" stroke="#404040" stroke-width="0.4"/>
<line x1="445.45" y1="131.98" x2="446.19" y2="131.98" stroke="#404040" stroke-width="0.4"/>
<line x1="545.95" y1="131.98" x2="545.21" y2="131.98" stroke="#404040" stroke-width="0.4"/>
<text x="495.7" y="128.05" font-size="7.15" text-anchor="middle" fill="#000" font-weight="bold">C17-F29</text>
<text x="495.7" y="240.3" font-size="7.15" text-anchor="middle" fill="#262626">algorithm</text>
<text x="427.6" y="171.48" font-size="7.15" text-anchor="middle" fill="#262626" transform="rotate(-90 427.6 171.48)">objective function</text>
</g>
<g>
<line x1="229.2" y1="334.5" x2="233.6" y2="334.5" stroke="#ff0000" stroke-width="0.9"/>
<line x1="239.4" y1="258.3" x2="239.4" y2="259.6" stroke="#000" stroke-width="0.5" stroke-dasharray="1.5 0.9"/>
<line x1="238.16" y1="259.6" x2="240.64" y2="259.6" stroke="#000" stroke-width="0.7"/>
<rect x="237.4" y="256.7" width="4" height="1.6" fill="none" stroke="#0000ff" stroke-width="0.67"/>
<line x1="237.4" y1="257" x2="241.4" y2="257" stroke="#ff0000" stroke-width="0.55"/>
<line x1="247.4" y1="298" x2="247.4" y2="296.4" stroke="#000" stroke-width="0.5" stroke-dasharray="1.5 0.9"/>
<line x1="246.16" y1="296.4" x2="248.64" y2="296.4" stroke="#000" stroke-width="0.7"/>
<line x1="247.4" y1="303.6" x2="247.4" y2="306.2" stroke="#000" stroke-width="0.5" stroke-dasharray="1.5 0.9"/>
<line x1="246.16" y1="306.2" x2="248.64" y2="306.2" stroke="#000" stroke-width="0.7"/>
<rect x="245.4" y="298" width="4" height="5.6" fill="none" stroke="#0000ff" stroke-width="0.67"/>
<line x1="245.4" y1="300.5" x2="249.4" y2="300.5" stroke="#ff0000" stroke-width="0.75"/>
<line x1="255.4" y1="253.8" x2="255.4" y2="255" stroke="#000" stroke-width="0.5" stroke-dasharray="1.5 0.9"/>
<line x1="254.16" y1="255" x2="256.64" y2="255" stroke="#000" stroke-width="0.7"/>
<rect x="253.4" y="252.4" width="4" height="1.4" fill="none" stroke="#0000ff" stroke-width="0.67"/>
<line x1="253.4" y1="252.6" x2="257.4" y2="252.6" stroke="#ff0000" stroke-width="0.55"/>
<rect x="261.4" y="331.6" width="4" height="1.6" fill="none" stroke="#0000ff" stroke-width="0.67"/>
<line x1="261.4" y1="332.4" x2="265.4" y2="332.4" stroke="#ff0000" stroke-width="0.55"/>
<line x1="271.4" y1="277" x2="271.4" y2="274.4" stroke="#000" stroke-width="0.5" stroke-dasharray="1.5 0.9"/>
<line x1="270.16" y1="274.4" x2="272.64" y2="274.4" stroke="#000" stroke-width="0.7"/>
<line x1="271.4" y1="284" x2="271.4" y2="286.4" stroke="#000" stroke-width="0.5" stroke-dasharray="1.5 0.9"/>
<line x1="270.16" y1="286.4" x2="272.64" y2="286.4" stroke="#000" stroke-width="0.7"/>
<rect x="269.4" y="277" width="4" height="7" fill="none" stroke="#0000ff" stroke-width="0.67"/>
<line x1="269.4" y1="282.4" x2="273.4" y2="282.4" stroke="#ff0000" stroke-width="0.75"/>
<line x1="279.4" y1="277.6" x2="279.4" y2="276.4" stroke="#000" stroke-width="0.5" stroke-dasharray="1.5 0.9"/>
<line x1="278.16" y1="276.4" x2="280.64" y2="276.4" stroke="#000" stroke-width="0.7"/>
<line x1="279.4" y1="282.6" x2="279.4" y2="289" stroke="#000" stroke-width="0.5" stroke-dasharray="1.5 0.9"/>
<line x1="278.16" y1="289" x2="280.64" y2="289" stroke="#000" stroke-width="0.7"/>
<rect x="277.4" y="277.6" width="4" height="5" fill="none" stroke="#0000ff" stroke-width="0.67"/>
<line x1="277.4" y1="279.4" x2="281.4" y2="279.4" stroke="#ff0000" stroke-width="0.75"/>
<line x1="287.4" y1="297.5" x2="287.4" y2="305.8" stroke="#000" stroke-width="0.5" stroke-dasharray="1.5 0.9"/>
<line x1="286.16" y1="305.8" x2="288.64" y2="305.8" stroke="#000" stroke-width="0.7"/>
<rect x="285.4" y="293.6" width="4" height="3.9" fill="none" stroke="#0000ff" stroke-width="0.67"/>
<line x1="285.4" y1="294.4" x2="289.4" y2="294.4" stroke="#ff0000" stroke-width="0.75"/>
<line x1="295.4" y1="287.6" x2="295.4" y2="284" stroke="#000" stroke-width="0.5" stroke-dasharray="1.5 0.9"/>
<line x1="294.16" y1="284" x2="296.64" y2="284" stroke="#000" stroke-width="0.7"/>
<line x1="295.4" y1="297.4" x2="295.4" y2="300" stroke="#000" stroke-width="0.5" stroke-dasharray="1.5 0.9"/>
<line x1="294.16" y1="300" x2="296.64" y2="300" stroke="#000" stroke-width="0.7"/>
<rect x="293.4" y="287.6" width="4" height="9.8" fill="none" stroke="#0000ff" stroke-width="0.67"/>
<line x1="293.4" y1="294.4" x2="297.4" y2="294.4" stroke="#ff0000" stroke-width="0.75"/>
<line x1="303.4" y1="277.4" x2="303.4" y2="275" stroke="#000" stroke-width="0.5" stroke-dasharray="1.5 0.9"/>
<line x1="302.16" y1="275" x2="304.64" y2="275" stroke="#000" stroke-width="0.7"/>
<rect x="301.4" y="277.4" width="4" height="6" fill="none" stroke="#0000ff" stroke-width="0.67"/>
<line x1="301.4" y1="282.6" x2="305.4" y2="282.6" stroke="#ff0000" stroke-width="0.75"/>
<rect x="309.4" y="296.8" width="4" height="1" fill="none" stroke="#0000ff" stroke-width="0.67"/>
<line x1="309.4" y1="297.2" x2="313.4" y2="297.2" stroke="#ff0000" stroke-width="0.55"/>
<line x1="319.4" y1="306" x2="319.4" y2="301.6" stroke="#000" stroke-width="0.5" stroke-dasharray="1.5 0.9"/>
<line x1="318.16" y1="301.6" x2="320.64" y2="301.6" stroke="#000" stroke-width="0.7"/>
<rect x="317.4" y="306" width="4" height="26.1" fill="none" stroke="#0000ff" stroke-width="0.67"/>
<line x1="317.4" y1="325" x2="321.4" y2="325" stroke="#ff0000" stroke-width="0.75"/>
<line x1="327.4" y1="301" x2="327.4" y2="300" stroke="#000" stroke-width="0.5" stroke-dasharray="1.5 0.9"/>
<line x1="326.16" y1="300" x2="328.64" y2="300" stroke="#000" stroke-width="0.7"/>
<line x1="327.4" y1="312" x2="327.4" y2="313" stroke="#000" stroke-width="0.5" stroke-dasharray="1.5 0.9"/>
<line x1="326.16" y1="313" x2="328.64" y2="313" stroke="#000" stroke-width="0.7"/>
<rect x="325.4" y="301" width="4" height="11" fill="none" stroke="#0000ff" stroke-width="0.67"/>
<line x1="325.4" y1="305" x2="329.4" y2="305" stroke="#ff0000" stroke-width="0.75"/>
<rect x="227.45" y="251.55" width="104.05" height="83.4" fill="none" stroke="#404040" stroke-width="0.76"/>
<line x1="231.4" y1="334.95" x2="231.4" y2="333.6" stroke="#404040" stroke-width="0.55"/>
<line x1="231.4" y1="251.55" x2="231.4" y2="252.9" stroke="#404040" stroke-width="0.55"/>
<text x="233.55" y="336.8" font-size="6.4" text-anchor="end" fill="#262626" transform="rotate(-90 233.55 336.8)">LOA</text>
<line x1="239.4" y1="334.95" x2="239.4" y2="333.6" stroke="#404040" stroke-width="0.55"/>
<line x1="239.4" y1="251.55" x2="239.4" y2="252.9" stroke="#404040" stroke-width="0.55"/>
<text x="241.55" y="336.8" font-size="6.4" text-anchor="end" fill="#262626" transform="rotate(-90 241.55 336.8)">WSO</text>
<line x1="247.4" y1="334.95" x2="247.4" y2="333.6" stroke="#404040" stroke-width="0.55"/>
<line x1="247.4" y1="251.55" x2="247.4" y2="252.9" stroke="#404040" stroke-width="0.55"/>
<text x="249.55" y="336.8" font-size="6.4" text-anchor="end" fill="#262626" transform="rotate(-90 249.55 336.8)">AVOA</text>
<line x1="255.4" y1="334.95" x2="255.4" y2="333.6" stroke="#404040" stroke-width="0.55"/>
<line x1="255.4" y1="251.55" x2="255.4" y2="252.9" stroke="#404040" stroke-width="0.55"/>
<text x="257.55" y="336.8" font-size="6.4" text-anchor="end" fill="#262626" transform="rotate(-90 257.55 336.8)">RSA</text>
<line x1="263.4" y1="334.95" x2="263.4" y2="333.6" stroke="#404040" stroke-width="0.55"/>
<line x1="263.4" y1="251.55" x2="263.4" y2="252.9" stroke="#404040" stroke-width="0.55"/>
<text x="265.55" y="336.8" font-size="6.4" text-anchor="end" fill="#262626" transform="rotate(-90 265.55 336.8)">MPA</text>
<line x1="271.4" y1="334.95" x2="271.4" y2="333.6" stroke="#404040" stroke-width="0.55"/>
<line x1="271.4" y1="251.55" x2="271.4" y2="252.9" stroke="#404040" stroke-width="0.55"/>
<text x="273.55" y="336.8" font-size="6.4" text-anchor="end" fill="#262626" transform="rotate(-90 273.55 336.8)">TSA</text>
<line x1="279.4" y1="334.95" x2="279.4" y2="333.6" stroke="#404040" stroke-width="0.55"/>
<line x1="279.4" y1="251.55" x2="279.4" y2="252.9" stroke="#404040" stroke-width="0.55"/>
<text x="281.55" y="336.8" font-size="6.4" text-anchor="end" fill="#262626" transform="rotate(-90 281.55 336.8)">WOA</text>
<line x1="287.4" y1="334.95" x2="287.4" y2="333.6" stroke="#404040" stroke-width="0.55"/>
<line x1="287.4" y1="251.55" x2="287.4" y2="252.9" stroke="#404040" stroke-width="0.55"/>
<text x="289.55" y="336.8" font-size="6.4" text-anchor="end" fill="#262626" transform="rotate(-90 289.55 336.8)">MVO</text>
<line x1="295.4" y1="334.95" x2="295.4" y2="333.6" stroke="#404040" stroke-width="0.55"/>
<line x1="295.4" y1="251.55" x2="295.4" y2="252.9" stroke="#404040" stroke-width="0.55"/>
<text x="297.55" y="336.8" font-size="6.4" text-anchor="end" fill="#262626" transform="rotate(-90 297.55 336.8)">GWO</text>
<line x1="303.4" y1="334.95" x2="303.4" y2="333.6" stroke="#404040" stroke-width="0.55"/>
<line x1="303.4" y1="251.55" x2="303.4" y2="252.9" stroke="#404040" stroke-width="0.55"/>
<text x="305.55" y="336.8" font-size="6.4" text-anchor="end" fill="#262626" transform="rotate(-90 305.55 336.8)">TLBO</text>
<line x1="311.4" y1="334.95" x2="311.4" y2="333.6" stroke="#404040" stroke-width="0.55"/>
<line x1="311.4" y1="251.55" x2="311.4" y2="252.9" stroke="#404040" stroke-width="0.55"/>
<text x="313.55" y="336.8" font-size="6.4" text-anchor="end" fill="#262626" transform="rotate(-90 313.55 336.8)">GSA</text>
<line x1="319.4" y1="334.95" x2="319.4" y2="333.6" stroke="#404040" stroke-width="0.55"/>
<line x1="319.4" y1="251.55" x2="319.4" y2="252.9" stroke="#404040" stroke-width="0.55"/>
<text x="321.55" y="336.8" font-size="6.4" text-anchor="end" fill="#262626" transform="rotate(-90 321.55 336.8)">PSO</text>
<line x1="327.4" y1="334.95" x2="327.4" y2="333.6" stroke="#404040" stroke-width="0.55"/>
<line x1="327.4" y1="251.55" x2="327.4" y2="252.9" stroke="#404040" stroke-width="0.55"/>
<text x="329.55" y="336.8" font-size="6.4" text-anchor="end" fill="#262626" transform="rotate(-90 329.55 336.8)">GA</text>
<line x1="227.45" y1="273.2" x2="228.8" y2="273.2" stroke="#404040" stroke-width="0.55"/>
<line x1="331.5" y1="273.2" x2="330.15" y2="273.2" stroke="#404040" stroke-width="0.55"/>
<text x="225.95" y="276.9" font-size="6.4" text-anchor="end" fill="#262626">10<tspan dy="-3.3" font-size="4.61">8</tspan></text>
<line x1="227.45" y1="301.75" x2="228.8" y2="301.75" stroke="#404040" stroke-width="0.55"/>
<line x1="331.5" y1="301.75" x2="330.15" y2="301.75" stroke="#404040" stroke-width="0.55"/>
<text x="225.95" y="305.45" font-size="6.4" text-anchor="end" fill="#262626">10<tspan dy="-3.3" font-size="4.61">6</tspan></text>
<line x1="227.45" y1="330.3" x2="228.8" y2="330.3" stroke="#404040" stroke-width="0.55"/>
<line x1="331.5" y1="330.3" x2="330.15" y2="330.3" stroke="#404040" stroke-width="0.55"/>
<text x="225.95" y="334" font-size="6.4" text-anchor="end" fill="#262626">10<tspan dy="-3.3" font-size="4.61">4</tspan></text>
<line x1="227.45" y1="334.6" x2="228.19" y2="334.6" stroke="#404040" stroke-width="0.4"/>
<line x1="331.5" y1="334.6" x2="330.76" y2="334.6" stroke="#404040" stroke-width="0.4"/>
<line x1="227.45" y1="333.47" x2="228.19" y2="333.47" stroke="#404040" stroke-width="0.4"/>
<line x1="331.5" y1="333.47" x2="330.76" y2="333.47" stroke="#404040" stroke-width="0.4"/>
<line x1="227.45" y1="332.51" x2="228.19" y2="332.51" stroke="#404040" stroke-width="0.4"/>
<line x1="331.5" y1="332.51" x2="330.76" y2="332.51" stroke="#404040" stroke-width="0.4"/>
<line x1="227.45" y1="331.68" x2="228.19" y2="331.68" stroke="#404040" stroke-width="0.4"/>
<line x1="331.5" y1="331.68" x2="330.76" y2="331.68" stroke="#404040" stroke-width="0.4"/>
<line x1="227.45" y1="330.95" x2="228.19" y2="330.95" stroke="#404040" stroke-width="0.4"/>
<line x1="331.5" y1="330.95" x2="330.76" y2="330.95" stroke="#404040" stroke-width="0.4"/>
<line x1="227.45" y1="326" x2="228.19" y2="326" stroke="#404040" stroke-width="0.4"/>
<line x1="331.5" y1="326" x2="330.76" y2="326" stroke="#404040" stroke-width="0.4"/>
<line x1="227.45" y1="323.49" x2="228.19" y2="323.49" stroke="#404040" stroke-width="0.4"/>
<line x1="331.5" y1="323.49" x2="330.76" y2="323.49" stroke="#404040" stroke-width="0.4"/>
<line x1="227.45" y1="321.71" x2="228.19" y2="321.71" stroke="#404040" stroke-width="0.4"/>
<line x1="331.5" y1="321.71" x2="330.76" y2="321.71" stroke="#404040" stroke-width="0.4"/>
<line x1="227.45" y1="320.33" x2="228.19" y2="320.33" stroke="#404040" stroke-width="0.4"/>
<line x1="331.5" y1="320.33" x2="330.76" y2="320.33" stroke="#404040" stroke-width="0.4"/>
<line x1="227.45" y1="319.2" x2="228.19" y2="319.2" stroke="#404040" stroke-width="0.4"/>
<line x1="331.5" y1="319.2" x2="330.76" y2="319.2" stroke="#404040" stroke-width="0.4"/>
<line x1="227.45" y1="318.24" x2="228.19" y2="318.24" stroke="#404040" stroke-width="0.4"/>
<line x1="331.5" y1="318.24" x2="330.76" y2="318.24" stroke="#404040" stroke-width="0.4"/>
<line x1="227.45" y1="317.41" x2="228.19" y2="317.41" stroke="#404040" stroke-width="0.4"/>
<line x1="331.5" y1="317.41" x2="330.76" y2="317.41" stroke="#404040" stroke-width="0.4"/>
<line x1="227.45" y1="316.68" x2="228.19" y2="316.68" stroke="#404040" stroke-width="0.4"/>
<line x1="331.5" y1="316.68" x2="330.76" y2="316.68" stroke="#404040" stroke-width="0.4"/>
<line x1="227.45" y1="311.73" x2="228.19" y2="311.73" stroke="#404040" stroke-width="0.4"/>
<line x1="331.5" y1="311.73" x2="330.76" y2="311.73" stroke="#404040" stroke-width="0.4"/>
<line x1="227.45" y1="309.22" x2="228.19" y2="309.22" stroke="#404040" stroke-width="0.4"/>
<line x1="331.5" y1="309.22" x2="330.76" y2="309.22" stroke="#404040" stroke-width="0.4"/>
<line x1="227.45" y1="307.44" x2="228.19" y2="307.44" stroke="#404040" stroke-width="0.4"/>
<line x1="331.5" y1="307.44" x2="330.76" y2="307.44" stroke="#404040" stroke-width="0.4"/>
<line x1="227.45" y1="306.06" x2="228.19" y2="306.06" stroke="#404040" stroke-width="0.4"/>
<line x1="331.5" y1="306.06" x2="330.76" y2="306.06" stroke="#404040" stroke-width="0.4"/>
<line x1="227.45" y1="304.93" x2="228.19" y2="304.93" stroke="#404040" stroke-width="0.4"/>
<line x1="331.5" y1="304.93" x2="330.76" y2="304.93" stroke="#404040" stroke-width="0.4"/>
<line x1="227.45" y1="303.97" x2="228.19" y2="303.97" stroke="#404040" stroke-width="0.4"/>
<line x1="331.5" y1="303.97" x2="330.76" y2="303.97" stroke="#404040" stroke-width="0.4"/>
<line x1="227.45" y1="303.14" x2="228.19" y2="303.14" stroke="#404040" stroke-width="0.4"/>
<line x1="331.5" y1="303.14" x2="330.76" y2="303.14" stroke="#404040" stroke-width="0.4"/>
<line x1="227.45" y1="302.41" x2="228.19" y2="302.41" stroke="#404040" stroke-width="0.4"/>
<line x1="331.5" y1="302.41" x2="330.76" y2="302.41" stroke="#404040" stroke-width="0.4"/>
<line x1="227.45" y1="297.46" x2="228.19" y2="297.46" stroke="#404040" stroke-width="0.4"/>
<line x1="331.5" y1="297.46" x2="330.76" y2="297.46" stroke="#404040" stroke-width="0.4"/>
<line x1="227.45" y1="294.95" x2="228.19" y2="294.95" stroke="#404040" stroke-width="0.4"/>
<line x1="331.5" y1="294.95" x2="330.76" y2="294.95" stroke="#404040" stroke-width="0.4"/>
<line x1="227.45" y1="293.17" x2="228.19" y2="293.17" stroke="#404040" stroke-width="0.4"/>
<line x1="331.5" y1="293.17" x2="330.76" y2="293.17" stroke="#404040" stroke-width="0.4"/>
<line x1="227.45" y1="291.79" x2="228.19" y2="291.79" stroke="#404040" stroke-width="0.4"/>
<line x1="331.5" y1="291.79" x2="330.76" y2="291.79" stroke="#404040" stroke-width="0.4"/>
<line x1="227.45" y1="290.66" x2="228.19" y2="290.66" stroke="#404040" stroke-width="0.4"/>
<line x1="331.5" y1="290.66" x2="330.76" y2="290.66" stroke="#404040" stroke-width="0.4"/>
<line x1="227.45" y1="289.7" x2="228.19" y2="289.7" stroke="#404040" stroke-width="0.4"/>
<line x1="331.5" y1="289.7" x2="330.76" y2="289.7" stroke="#404040" stroke-width="0.4"/>
<line x1="227.45" y1="288.87" x2="228.19" y2="288.87" stroke="#404040" stroke-width="0.4"/>
<line x1="331.5" y1="288.87" x2="330.76" y2="288.87" stroke="#404040" stroke-width="0.4"/>
<line x1="227.45" y1="288.14" x2="228.19" y2="288.14" stroke="#404040" stroke-width="0.4"/>
<line x1="331.5" y1="288.14" x2="330.76" y2="288.14" stroke="#404040" stroke-width="0.4"/>
<line x1="227.45" y1="283.19" x2="228.19" y2="283.19" stroke="#404040" stroke-width="0.4"/>
<line x1="331.5" y1="283.19" x2="330.76" y2="283.19" stroke="#404040" stroke-width="0.4"/>
<line x1="227.45" y1="280.68" x2="228.19" y2="280.68" stroke="#404040" stroke-width="0.4"/>
<line x1="331.5" y1="280.68" x2="330.76" y2="280.68" stroke="#404040" stroke-width="0.4"/>
<line x1="227.45" y1="278.9" x2="228.19" y2="278.9" stroke="#404040" stroke-width="0.4"/>
<line x1="331.5" y1="278.9" x2="330.76" y2="278.9" stroke="#404040" stroke-width="0.4"/>
<line x1="227.45" y1="277.52" x2="228.19" y2="277.52" stroke="#404040" stroke-width="0.4"/>
<line x1="331.5" y1="277.52" x2="330.76" y2="277.52" stroke="#404040" stroke-width="0.4"/>
<line x1="227.45" y1="276.39" x2="228.19" y2="276.39" stroke="#404040" stroke-width="0.4"/>
<line x1="331.5" y1="276.39" x2="330.76" y2="276.39" stroke="#404040" stroke-width="0.4"/>
<line x1="227.45" y1="275.43" x2="228.19" y2="275.43" stroke="#404040" stroke-width="0.4"/>
<line x1="331.5" y1="275.43" x2="330.76" y2="275.43" stroke="#404040" stroke-width="0.4"/>
<line x1="227.45" y1="274.6" x2="228.19" y2="274.6" stroke="#404040" stroke-width="0.4"/>
<line x1="331.5" y1="274.6" x2="330.76" y2="274.6" stroke="#404040" stroke-width="0.4"/>
<line x1="227.45" y1="273.87" x2="228.19" y2="273.87" stroke="#404040" stroke-width="0.4"/>
<line x1="331.5" y1="273.87" x2="330.76" y2="273.87" stroke="#404040" stroke-width="0.4"/>
<line x1="227.45" y1="268.92" x2="228.19" y2="268.92" stroke="#404040" stroke-width="0.4"/>
<line x1="331.5" y1="268.92" x2="330.76" y2="268.92" stroke="#404040" stroke-width="0.4"/>
<line x1="227.45" y1="266.41" x2="228.19" y2="266.41" stroke="#404040" stroke-width="0.4"/>
<line x1="331.5" y1="266.41" x2="330.76" y2="266.41" stroke="#404040" stroke-width="0.4"/>
<line x1="227.45" y1="264.63" x2="228.19" y2="264.63" stroke="#404040" stroke-width="0.4"/>
<line x1="331.5" y1="264.63" x2="330.76" y2="264.63" stroke="#404040" stroke-width="0.4"/>
<line x1="227.45" y1="263.25" x2="228.19" y2="263.25" stroke="#404040" stroke-width="0.4"/>
<line x1="331.5" y1="263.25" x2="330.76" y2="263.25" stroke="#404040" stroke-width="0.4"/>
<line x1="227.45" y1="262.12" x2="228.19" y2="262.12" stroke="#404040" stroke-width="0.4"/>
<line x1="331.5" y1="262.12" x2="330.76" y2="262.12" stroke="#404040" stroke-width="0.4"/>
<line x1="227.45" y1="261.16" x2="228.19" y2="261.16" stroke="#404040" stroke-width="0.4"/>
<line x1="331.5" y1="261.16" x2="330.76" y2="261.16" stroke="#404040" stroke-width="0.4"/>
<line x1="227.45" y1="260.33" x2="228.19" y2="260.33" stroke="#404040" stroke-width="0.4"/>
<line x1="331.5" y1="260.33" x2="330.76" y2="260.33" stroke="#404040" stroke-width="0.4"/>
<line x1="227.45" y1="259.6" x2="228.19" y2="259.6" stroke="#404040" stroke-width="0.4"/>
<line x1="331.5" y1="259.6" x2="330.76" y2="259.6" stroke="#404040" stroke-width="0.4"/>
<line x1="227.45" y1="254.65" x2="228.19" y2="254.65" stroke="#404040" stroke-width="0.4"/>
<line x1="331.5" y1="254.65" x2="330.76" y2="254.65" stroke="#404040" stroke-width="0.4"/>
<line x1="227.45" y1="252.14" x2="228.19" y2="252.14" stroke="#404040" stroke-width="0.4"/>
<line x1="331.5" y1="252.14" x2="330.76" y2="252.14" stroke="#404040" stroke-width="0.4"/>
<line x1="227.45" y1="316" x2="228.19" y2="316" stroke="#404040" stroke-width="0.4"/>
<line x1="331.5" y1="316" x2="330.76" y2="316" stroke="#404040" stroke-width="0.4"/>
<line x1="227.45" y1="287.5" x2="228.19" y2="287.5" stroke="#404040" stroke-width="0.4"/>
<line x1="331.5" y1="287.5" x2="330.76" y2="287.5" stroke="#404040" stroke-width="0.4"/>
<line x1="227.45" y1="258.9" x2="228.19" y2="258.9" stroke="#404040" stroke-width="0.4"/>
<line x1="331.5" y1="258.9" x2="330.76" y2="258.9" stroke="#404040" stroke-width="0.4"/>
<text x="279.48" y="250.05" font-size="7.15" text-anchor="middle" fill="#000" font-weight="bold">C17-F30</text>
<text x="279.48" y="361.4" font-size="7.15" text-anchor="middle" fill="#262626">algorithm</text>
<text x="213.4" y="293.25" font-size="7.15" text-anchor="middle" fill="#262626" transform="rotate(-90 213.4 293.25)">objective function</text>
</g>
</svg>
</body>
</html>
